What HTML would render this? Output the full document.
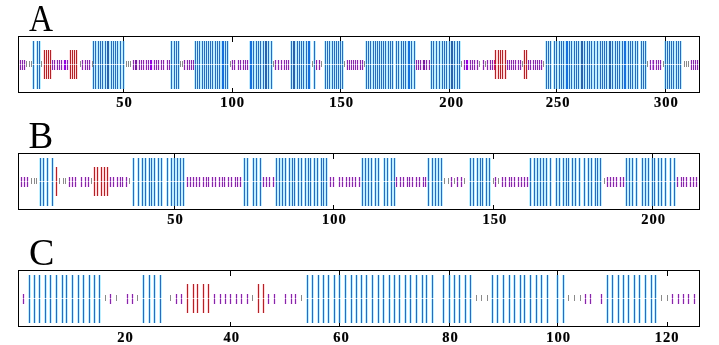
<!DOCTYPE html>
<html><head><meta charset="utf-8"><title>Sequence panels</title>
<style>
html,body{margin:0;padding:0;background:#fff;}
body{width:719px;height:345px;overflow:hidden;}
svg{display:block;}
.tl{font-family:"Liberation Serif",serif;font-weight:bold;font-size:14.5px;text-anchor:middle;letter-spacing:1px;fill:#000;stroke:#000;stroke-width:0.2px;}
.pl{font-family:"Liberation Serif",serif;font-size:37px;fill:#000;}
</style></head>
<body><svg width="719" height="345" viewBox="0 0 719 345" shape-rendering="crispEdges"><rect x="123" y="37" width="1" height="5" fill="#000"/><rect x="123" y="88" width="1" height="4" fill="#000"/><rect x="232" y="37" width="1" height="5" fill="#000"/><rect x="232" y="88" width="1" height="4" fill="#000"/><rect x="340" y="37" width="1" height="5" fill="#000"/><rect x="340" y="88" width="1" height="4" fill="#000"/><rect x="449" y="37" width="1" height="5" fill="#000"/><rect x="449" y="88" width="1" height="4" fill="#000"/><rect x="556" y="37" width="1" height="5" fill="#000"/><rect x="556" y="88" width="1" height="4" fill="#000"/><rect x="665" y="37" width="1" height="5" fill="#000"/><rect x="665" y="88" width="1" height="4" fill="#000"/><rect x="19" y="60" width="3" height="4" fill="#f8dcf9"/><rect x="19" y="65" width="3" height="5" fill="#f8dcf9"/><rect x="21" y="60" width="3" height="4" fill="#f8dcf9"/><rect x="21" y="65" width="3" height="5" fill="#f8dcf9"/><rect x="23" y="60" width="3" height="4" fill="#f8dcf9"/><rect x="23" y="65" width="3" height="5" fill="#f8dcf9"/><rect x="32" y="41" width="3" height="23" fill="#bdeeff"/><rect x="32" y="65" width="3" height="24" fill="#bdeeff"/><rect x="36" y="41" width="3" height="23" fill="#bdeeff"/><rect x="36" y="65" width="3" height="24" fill="#bdeeff"/><rect x="38" y="41" width="3" height="23" fill="#bdeeff"/><rect x="38" y="65" width="3" height="24" fill="#bdeeff"/><rect x="43" y="50" width="3" height="14" fill="#ffdadd"/><rect x="43" y="65" width="3" height="14" fill="#ffdadd"/><rect x="45" y="50" width="3" height="14" fill="#ffdadd"/><rect x="45" y="65" width="3" height="14" fill="#ffdadd"/><rect x="47" y="50" width="3" height="14" fill="#ffdadd"/><rect x="47" y="65" width="3" height="14" fill="#ffdadd"/><rect x="49" y="50" width="3" height="14" fill="#ffdadd"/><rect x="49" y="65" width="3" height="14" fill="#ffdadd"/><rect x="51" y="60" width="3" height="4" fill="#f8dcf9"/><rect x="51" y="65" width="3" height="5" fill="#f8dcf9"/><rect x="53" y="60" width="3" height="4" fill="#f8dcf9"/><rect x="53" y="65" width="3" height="5" fill="#f8dcf9"/><rect x="56" y="60" width="3" height="4" fill="#f8dcf9"/><rect x="56" y="65" width="3" height="5" fill="#f8dcf9"/><rect x="58" y="60" width="3" height="4" fill="#f8dcf9"/><rect x="58" y="65" width="3" height="5" fill="#f8dcf9"/><rect x="60" y="60" width="3" height="4" fill="#f8dcf9"/><rect x="60" y="65" width="3" height="5" fill="#f8dcf9"/><rect x="63" y="60" width="4" height="4" fill="#f6e0ff"/><rect x="63" y="65" width="4" height="5" fill="#f6e0ff"/><rect x="66" y="60" width="3" height="4" fill="#f8dcf9"/><rect x="66" y="65" width="3" height="5" fill="#f8dcf9"/><rect x="69" y="50" width="3" height="14" fill="#ffdadd"/><rect x="69" y="65" width="3" height="14" fill="#ffdadd"/><rect x="71" y="50" width="3" height="14" fill="#ffdadd"/><rect x="71" y="65" width="3" height="14" fill="#ffdadd"/><rect x="73" y="50" width="3" height="14" fill="#ffdadd"/><rect x="73" y="65" width="3" height="14" fill="#ffdadd"/><rect x="75" y="50" width="3" height="14" fill="#ffdadd"/><rect x="75" y="65" width="3" height="14" fill="#ffdadd"/><rect x="81" y="60" width="3" height="4" fill="#f8dcf9"/><rect x="81" y="65" width="3" height="5" fill="#f8dcf9"/><rect x="84" y="60" width="3" height="4" fill="#f8dcf9"/><rect x="84" y="65" width="3" height="5" fill="#f8dcf9"/><rect x="86" y="60" width="3" height="4" fill="#f8dcf9"/><rect x="86" y="65" width="3" height="5" fill="#f8dcf9"/><rect x="88" y="60" width="3" height="4" fill="#f8dcf9"/><rect x="88" y="65" width="3" height="5" fill="#f8dcf9"/><rect x="92" y="41" width="3" height="23" fill="#bdeeff"/><rect x="92" y="65" width="3" height="24" fill="#bdeeff"/><rect x="94" y="41" width="3" height="23" fill="#bdeeff"/><rect x="94" y="65" width="3" height="24" fill="#bdeeff"/><rect x="97" y="41" width="3" height="23" fill="#bdeeff"/><rect x="97" y="65" width="3" height="24" fill="#bdeeff"/><rect x="99" y="41" width="3" height="23" fill="#bdeeff"/><rect x="99" y="65" width="3" height="24" fill="#bdeeff"/><rect x="101" y="41" width="3" height="23" fill="#bdeeff"/><rect x="101" y="65" width="3" height="24" fill="#bdeeff"/><rect x="104" y="41" width="3" height="23" fill="#bdeeff"/><rect x="104" y="65" width="3" height="24" fill="#bdeeff"/><rect x="106" y="41" width="4" height="23" fill="#bdeeff"/><rect x="106" y="65" width="4" height="24" fill="#bdeeff"/><rect x="110" y="41" width="3" height="23" fill="#bdeeff"/><rect x="110" y="65" width="3" height="24" fill="#bdeeff"/><rect x="112" y="41" width="3" height="23" fill="#bdeeff"/><rect x="112" y="65" width="3" height="24" fill="#bdeeff"/><rect x="114" y="41" width="3" height="23" fill="#bdeeff"/><rect x="114" y="65" width="3" height="24" fill="#bdeeff"/><rect x="116" y="41" width="3" height="23" fill="#bdeeff"/><rect x="116" y="65" width="3" height="24" fill="#bdeeff"/><rect x="119" y="41" width="3" height="23" fill="#bdeeff"/><rect x="119" y="65" width="3" height="24" fill="#bdeeff"/><rect x="122" y="41" width="3" height="23" fill="#bdeeff"/><rect x="122" y="65" width="3" height="24" fill="#bdeeff"/><rect x="132" y="60" width="3" height="4" fill="#f8dcf9"/><rect x="132" y="65" width="3" height="5" fill="#f8dcf9"/><rect x="134" y="60" width="4" height="4" fill="#f8dcf9"/><rect x="134" y="65" width="4" height="5" fill="#f8dcf9"/><rect x="138" y="60" width="3" height="4" fill="#f8dcf9"/><rect x="138" y="65" width="3" height="5" fill="#f8dcf9"/><rect x="140" y="60" width="3" height="4" fill="#f8dcf9"/><rect x="140" y="65" width="3" height="5" fill="#f8dcf9"/><rect x="142" y="60" width="3" height="4" fill="#f8dcf9"/><rect x="142" y="65" width="3" height="5" fill="#f8dcf9"/><rect x="145" y="60" width="3" height="4" fill="#f8dcf9"/><rect x="145" y="65" width="3" height="5" fill="#f8dcf9"/><rect x="147" y="60" width="3" height="4" fill="#f8dcf9"/><rect x="147" y="65" width="3" height="5" fill="#f8dcf9"/><rect x="149" y="60" width="4" height="4" fill="#f6e0ff"/><rect x="149" y="65" width="4" height="5" fill="#f6e0ff"/><rect x="153" y="60" width="3" height="4" fill="#f8dcf9"/><rect x="153" y="65" width="3" height="5" fill="#f8dcf9"/><rect x="155" y="60" width="3" height="4" fill="#f8dcf9"/><rect x="155" y="65" width="3" height="5" fill="#f8dcf9"/><rect x="157" y="60" width="3" height="4" fill="#f8dcf9"/><rect x="157" y="65" width="3" height="5" fill="#f8dcf9"/><rect x="160" y="60" width="3" height="4" fill="#f8dcf9"/><rect x="160" y="65" width="3" height="5" fill="#f8dcf9"/><rect x="162" y="60" width="3" height="4" fill="#f8dcf9"/><rect x="162" y="65" width="3" height="5" fill="#f8dcf9"/><rect x="166" y="60" width="3" height="4" fill="#f8dcf9"/><rect x="166" y="65" width="3" height="5" fill="#f8dcf9"/><rect x="168" y="60" width="3" height="4" fill="#f8dcf9"/><rect x="168" y="65" width="3" height="5" fill="#f8dcf9"/><rect x="170" y="41" width="3" height="23" fill="#bdeeff"/><rect x="170" y="65" width="3" height="24" fill="#bdeeff"/><rect x="173" y="41" width="3" height="23" fill="#bdeeff"/><rect x="173" y="65" width="3" height="24" fill="#bdeeff"/><rect x="175" y="41" width="3" height="23" fill="#bdeeff"/><rect x="175" y="65" width="3" height="24" fill="#bdeeff"/><rect x="177" y="41" width="3" height="23" fill="#bdeeff"/><rect x="177" y="65" width="3" height="24" fill="#bdeeff"/><rect x="183" y="60" width="3" height="4" fill="#f8dcf9"/><rect x="183" y="65" width="3" height="5" fill="#f8dcf9"/><rect x="186" y="60" width="3" height="4" fill="#f8dcf9"/><rect x="186" y="65" width="3" height="5" fill="#f8dcf9"/><rect x="188" y="60" width="3" height="4" fill="#f8dcf9"/><rect x="188" y="65" width="3" height="5" fill="#f8dcf9"/><rect x="190" y="60" width="3" height="4" fill="#f8dcf9"/><rect x="190" y="65" width="3" height="5" fill="#f8dcf9"/><rect x="192" y="60" width="3" height="4" fill="#f8dcf9"/><rect x="192" y="65" width="3" height="5" fill="#f8dcf9"/><rect x="194" y="41" width="3" height="23" fill="#bdeeff"/><rect x="194" y="65" width="3" height="24" fill="#bdeeff"/><rect x="196" y="41" width="3" height="23" fill="#bdeeff"/><rect x="196" y="65" width="3" height="24" fill="#bdeeff"/><rect x="198" y="41" width="3" height="23" fill="#bdeeff"/><rect x="198" y="65" width="3" height="24" fill="#bdeeff"/><rect x="201" y="41" width="3" height="23" fill="#bdeeff"/><rect x="201" y="65" width="3" height="24" fill="#bdeeff"/><rect x="203" y="41" width="3" height="23" fill="#bdeeff"/><rect x="203" y="65" width="3" height="24" fill="#bdeeff"/><rect x="205" y="41" width="3" height="23" fill="#bdeeff"/><rect x="205" y="65" width="3" height="24" fill="#bdeeff"/><rect x="207" y="41" width="3" height="23" fill="#bdeeff"/><rect x="207" y="65" width="3" height="24" fill="#bdeeff"/><rect x="209" y="41" width="3" height="23" fill="#bdeeff"/><rect x="209" y="65" width="3" height="24" fill="#bdeeff"/><rect x="211" y="41" width="3" height="23" fill="#bdeeff"/><rect x="211" y="65" width="3" height="24" fill="#bdeeff"/><rect x="214" y="41" width="3" height="23" fill="#bdeeff"/><rect x="214" y="65" width="3" height="24" fill="#bdeeff"/><rect x="216" y="41" width="3" height="23" fill="#bdeeff"/><rect x="216" y="65" width="3" height="24" fill="#bdeeff"/><rect x="218" y="41" width="3" height="23" fill="#bdeeff"/><rect x="218" y="65" width="3" height="24" fill="#bdeeff"/><rect x="221" y="41" width="4" height="23" fill="#bde8ff"/><rect x="221" y="65" width="4" height="24" fill="#bde8ff"/><rect x="224" y="41" width="3" height="23" fill="#bdeeff"/><rect x="224" y="65" width="3" height="24" fill="#bdeeff"/><rect x="226" y="41" width="3" height="23" fill="#bdeeff"/><rect x="226" y="65" width="3" height="24" fill="#bdeeff"/><rect x="231" y="60" width="3" height="4" fill="#f8dcf9"/><rect x="231" y="65" width="3" height="5" fill="#f8dcf9"/><rect x="233" y="60" width="3" height="4" fill="#f8dcf9"/><rect x="233" y="65" width="3" height="5" fill="#f8dcf9"/><rect x="237" y="60" width="3" height="4" fill="#f8dcf9"/><rect x="237" y="65" width="3" height="5" fill="#f8dcf9"/><rect x="239" y="60" width="3" height="4" fill="#f8dcf9"/><rect x="239" y="65" width="3" height="5" fill="#f8dcf9"/><rect x="242" y="60" width="3" height="4" fill="#f8dcf9"/><rect x="242" y="65" width="3" height="5" fill="#f8dcf9"/><rect x="244" y="60" width="3" height="4" fill="#f8dcf9"/><rect x="244" y="65" width="3" height="5" fill="#f8dcf9"/><rect x="246" y="60" width="3" height="4" fill="#f8dcf9"/><rect x="246" y="65" width="3" height="5" fill="#f8dcf9"/><rect x="249" y="41" width="4" height="23" fill="#bde8ff"/><rect x="249" y="65" width="4" height="24" fill="#bde8ff"/><rect x="252" y="41" width="3" height="23" fill="#bdeeff"/><rect x="252" y="65" width="3" height="24" fill="#bdeeff"/><rect x="255" y="41" width="3" height="23" fill="#bdeeff"/><rect x="255" y="65" width="3" height="24" fill="#bdeeff"/><rect x="257" y="41" width="3" height="23" fill="#bdeeff"/><rect x="257" y="65" width="3" height="24" fill="#bdeeff"/><rect x="259" y="41" width="3" height="23" fill="#bdeeff"/><rect x="259" y="65" width="3" height="24" fill="#bdeeff"/><rect x="262" y="41" width="3" height="23" fill="#bdeeff"/><rect x="262" y="65" width="3" height="24" fill="#bdeeff"/><rect x="264" y="41" width="4" height="23" fill="#bdeeff"/><rect x="264" y="65" width="4" height="24" fill="#bdeeff"/><rect x="267" y="41" width="3" height="23" fill="#bdeeff"/><rect x="267" y="65" width="3" height="24" fill="#bdeeff"/><rect x="270" y="41" width="3" height="23" fill="#bdeeff"/><rect x="270" y="65" width="3" height="24" fill="#bdeeff"/><rect x="274" y="60" width="3" height="4" fill="#f8dcf9"/><rect x="274" y="65" width="3" height="5" fill="#f8dcf9"/><rect x="277" y="60" width="3" height="4" fill="#f8dcf9"/><rect x="277" y="65" width="3" height="5" fill="#f8dcf9"/><rect x="280" y="60" width="3" height="4" fill="#f8dcf9"/><rect x="280" y="65" width="3" height="5" fill="#f8dcf9"/><rect x="283" y="60" width="3" height="4" fill="#f8dcf9"/><rect x="283" y="65" width="3" height="5" fill="#f8dcf9"/><rect x="285" y="60" width="3" height="4" fill="#f8dcf9"/><rect x="285" y="65" width="3" height="5" fill="#f8dcf9"/><rect x="287" y="60" width="3" height="4" fill="#f8dcf9"/><rect x="287" y="65" width="3" height="5" fill="#f8dcf9"/><rect x="290" y="41" width="3" height="23" fill="#bdeeff"/><rect x="290" y="65" width="3" height="24" fill="#bdeeff"/><rect x="292" y="41" width="4" height="23" fill="#bdeeff"/><rect x="292" y="65" width="4" height="24" fill="#bdeeff"/><rect x="296" y="41" width="3" height="23" fill="#bdeeff"/><rect x="296" y="65" width="3" height="24" fill="#bdeeff"/><rect x="298" y="41" width="3" height="23" fill="#bdeeff"/><rect x="298" y="65" width="3" height="24" fill="#bdeeff"/><rect x="300" y="41" width="3" height="23" fill="#bdeeff"/><rect x="300" y="65" width="3" height="24" fill="#bdeeff"/><rect x="302" y="41" width="3" height="23" fill="#bdeeff"/><rect x="302" y="65" width="3" height="24" fill="#bdeeff"/><rect x="305" y="41" width="3" height="23" fill="#bdeeff"/><rect x="305" y="65" width="3" height="24" fill="#bdeeff"/><rect x="307" y="41" width="4" height="23" fill="#bde8ff"/><rect x="307" y="65" width="4" height="24" fill="#bde8ff"/><rect x="313" y="41" width="3" height="23" fill="#bdeeff"/><rect x="313" y="65" width="3" height="24" fill="#bdeeff"/><rect x="315" y="60" width="3" height="4" fill="#f8dcf9"/><rect x="315" y="65" width="3" height="5" fill="#f8dcf9"/><rect x="318" y="60" width="3" height="4" fill="#f8dcf9"/><rect x="318" y="65" width="3" height="5" fill="#f8dcf9"/><rect x="324" y="41" width="3" height="23" fill="#bdeeff"/><rect x="324" y="65" width="3" height="24" fill="#bdeeff"/><rect x="326" y="41" width="3" height="23" fill="#bdeeff"/><rect x="326" y="65" width="3" height="24" fill="#bdeeff"/><rect x="328" y="41" width="3" height="23" fill="#bdeeff"/><rect x="328" y="65" width="3" height="24" fill="#bdeeff"/><rect x="331" y="41" width="3" height="23" fill="#bdeeff"/><rect x="331" y="65" width="3" height="24" fill="#bdeeff"/><rect x="333" y="41" width="3" height="23" fill="#bdeeff"/><rect x="333" y="65" width="3" height="24" fill="#bdeeff"/><rect x="335" y="41" width="3" height="23" fill="#bdeeff"/><rect x="335" y="65" width="3" height="24" fill="#bdeeff"/><rect x="337" y="41" width="3" height="23" fill="#bdeeff"/><rect x="337" y="65" width="3" height="24" fill="#bdeeff"/><rect x="339" y="41" width="3" height="23" fill="#bdeeff"/><rect x="339" y="65" width="3" height="24" fill="#bdeeff"/><rect x="341" y="41" width="3" height="23" fill="#bdeeff"/><rect x="341" y="65" width="3" height="24" fill="#bdeeff"/><rect x="346" y="60" width="3" height="4" fill="#f8dcf9"/><rect x="346" y="65" width="3" height="5" fill="#f8dcf9"/><rect x="348" y="60" width="3" height="4" fill="#f8dcf9"/><rect x="348" y="65" width="3" height="5" fill="#f8dcf9"/><rect x="350" y="60" width="3" height="4" fill="#f8dcf9"/><rect x="350" y="65" width="3" height="5" fill="#f8dcf9"/><rect x="352" y="60" width="3" height="4" fill="#f8dcf9"/><rect x="352" y="65" width="3" height="5" fill="#f8dcf9"/><rect x="354" y="60" width="3" height="4" fill="#f8dcf9"/><rect x="354" y="65" width="3" height="5" fill="#f8dcf9"/><rect x="356" y="60" width="3" height="4" fill="#f8dcf9"/><rect x="356" y="65" width="3" height="5" fill="#f8dcf9"/><rect x="359" y="60" width="3" height="4" fill="#f8dcf9"/><rect x="359" y="65" width="3" height="5" fill="#f8dcf9"/><rect x="361" y="60" width="3" height="4" fill="#f8dcf9"/><rect x="361" y="65" width="3" height="5" fill="#f8dcf9"/><rect x="365" y="41" width="3" height="23" fill="#bdeeff"/><rect x="365" y="65" width="3" height="24" fill="#bdeeff"/><rect x="367" y="41" width="3" height="23" fill="#bdeeff"/><rect x="367" y="65" width="3" height="24" fill="#bdeeff"/><rect x="369" y="41" width="3" height="23" fill="#bdeeff"/><rect x="369" y="65" width="3" height="24" fill="#bdeeff"/><rect x="372" y="41" width="3" height="23" fill="#bdeeff"/><rect x="372" y="65" width="3" height="24" fill="#bdeeff"/><rect x="374" y="41" width="3" height="23" fill="#bdeeff"/><rect x="374" y="65" width="3" height="24" fill="#bdeeff"/><rect x="376" y="41" width="3" height="23" fill="#bdeeff"/><rect x="376" y="65" width="3" height="24" fill="#bdeeff"/><rect x="378" y="41" width="3" height="23" fill="#bdeeff"/><rect x="378" y="65" width="3" height="24" fill="#bdeeff"/><rect x="380" y="41" width="3" height="23" fill="#bdeeff"/><rect x="380" y="65" width="3" height="24" fill="#bdeeff"/><rect x="382" y="41" width="3" height="23" fill="#bdeeff"/><rect x="382" y="65" width="3" height="24" fill="#bdeeff"/><rect x="384" y="41" width="3" height="23" fill="#bdeeff"/><rect x="384" y="65" width="3" height="24" fill="#bdeeff"/><rect x="387" y="41" width="3" height="23" fill="#bdeeff"/><rect x="387" y="65" width="3" height="24" fill="#bdeeff"/><rect x="389" y="41" width="3" height="23" fill="#bdeeff"/><rect x="389" y="65" width="3" height="24" fill="#bdeeff"/><rect x="391" y="41" width="3" height="23" fill="#bdeeff"/><rect x="391" y="65" width="3" height="24" fill="#bdeeff"/><rect x="395" y="41" width="3" height="23" fill="#bdeeff"/><rect x="395" y="65" width="3" height="24" fill="#bdeeff"/><rect x="397" y="41" width="3" height="23" fill="#bdeeff"/><rect x="397" y="65" width="3" height="24" fill="#bdeeff"/><rect x="400" y="41" width="3" height="23" fill="#bdeeff"/><rect x="400" y="65" width="3" height="24" fill="#bdeeff"/><rect x="402" y="41" width="3" height="23" fill="#bdeeff"/><rect x="402" y="65" width="3" height="24" fill="#bdeeff"/><rect x="404" y="41" width="3" height="23" fill="#bdeeff"/><rect x="404" y="65" width="3" height="24" fill="#bdeeff"/><rect x="407" y="41" width="4" height="23" fill="#bde8ff"/><rect x="407" y="65" width="4" height="24" fill="#bde8ff"/><rect x="410" y="41" width="3" height="23" fill="#bdeeff"/><rect x="410" y="65" width="3" height="24" fill="#bdeeff"/><rect x="413" y="41" width="3" height="23" fill="#bdeeff"/><rect x="413" y="65" width="3" height="24" fill="#bdeeff"/><rect x="415" y="60" width="3" height="4" fill="#f8dcf9"/><rect x="415" y="65" width="3" height="5" fill="#f8dcf9"/><rect x="417" y="60" width="3" height="4" fill="#f8dcf9"/><rect x="417" y="65" width="3" height="5" fill="#f8dcf9"/><rect x="419" y="60" width="3" height="4" fill="#f8dcf9"/><rect x="419" y="65" width="3" height="5" fill="#f8dcf9"/><rect x="422" y="60" width="4" height="4" fill="#f8dcf9"/><rect x="422" y="65" width="4" height="5" fill="#f8dcf9"/><rect x="425" y="60" width="3" height="4" fill="#f8dcf9"/><rect x="425" y="65" width="3" height="5" fill="#f8dcf9"/><rect x="428" y="60" width="3" height="4" fill="#f8dcf9"/><rect x="428" y="65" width="3" height="5" fill="#f8dcf9"/><rect x="430" y="41" width="3" height="23" fill="#bdeeff"/><rect x="430" y="65" width="3" height="24" fill="#bdeeff"/><rect x="432" y="41" width="3" height="23" fill="#bdeeff"/><rect x="432" y="65" width="3" height="24" fill="#bdeeff"/><rect x="435" y="41" width="3" height="23" fill="#bdeeff"/><rect x="435" y="65" width="3" height="24" fill="#bdeeff"/><rect x="438" y="41" width="3" height="23" fill="#bdeeff"/><rect x="438" y="65" width="3" height="24" fill="#bdeeff"/><rect x="441" y="41" width="3" height="23" fill="#bdeeff"/><rect x="441" y="65" width="3" height="24" fill="#bdeeff"/><rect x="443" y="41" width="3" height="23" fill="#bdeeff"/><rect x="443" y="65" width="3" height="24" fill="#bdeeff"/><rect x="445" y="41" width="3" height="23" fill="#bdeeff"/><rect x="445" y="65" width="3" height="24" fill="#bdeeff"/><rect x="448" y="41" width="3" height="23" fill="#bdeeff"/><rect x="448" y="65" width="3" height="24" fill="#bdeeff"/><rect x="450" y="41" width="4" height="23" fill="#bdeeff"/><rect x="450" y="65" width="4" height="24" fill="#bdeeff"/><rect x="453" y="41" width="3" height="23" fill="#bdeeff"/><rect x="453" y="65" width="3" height="24" fill="#bdeeff"/><rect x="456" y="41" width="3" height="23" fill="#bdeeff"/><rect x="456" y="65" width="3" height="24" fill="#bdeeff"/><rect x="458" y="41" width="3" height="23" fill="#bdeeff"/><rect x="458" y="65" width="3" height="24" fill="#bdeeff"/><rect x="463" y="60" width="3" height="4" fill="#f8dcf9"/><rect x="463" y="65" width="3" height="5" fill="#f8dcf9"/><rect x="465" y="60" width="4" height="4" fill="#f6e0ff"/><rect x="465" y="65" width="4" height="5" fill="#f6e0ff"/><rect x="469" y="60" width="3" height="4" fill="#f8dcf9"/><rect x="469" y="65" width="3" height="5" fill="#f8dcf9"/><rect x="471" y="60" width="3" height="4" fill="#f8dcf9"/><rect x="471" y="65" width="3" height="5" fill="#f8dcf9"/><rect x="473" y="60" width="3" height="4" fill="#f8dcf9"/><rect x="473" y="65" width="3" height="5" fill="#f8dcf9"/><rect x="476" y="60" width="3" height="4" fill="#f8dcf9"/><rect x="476" y="65" width="3" height="5" fill="#f8dcf9"/><rect x="482" y="60" width="3" height="4" fill="#f8dcf9"/><rect x="482" y="65" width="3" height="5" fill="#f8dcf9"/><rect x="486" y="60" width="3" height="4" fill="#f8dcf9"/><rect x="486" y="65" width="3" height="5" fill="#f8dcf9"/><rect x="489" y="60" width="3" height="4" fill="#f8dcf9"/><rect x="489" y="65" width="3" height="5" fill="#f8dcf9"/><rect x="491" y="60" width="3" height="4" fill="#f8dcf9"/><rect x="491" y="65" width="3" height="5" fill="#f8dcf9"/><rect x="493" y="60" width="4" height="4" fill="#ffe0f0"/><rect x="493" y="65" width="4" height="5" fill="#ffe0f0"/><rect x="494" y="50" width="3" height="14" fill="#ffdadd"/><rect x="494" y="65" width="3" height="14" fill="#ffdadd"/><rect x="497" y="50" width="3" height="14" fill="#ffdadd"/><rect x="497" y="65" width="3" height="14" fill="#ffdadd"/><rect x="499" y="50" width="3" height="14" fill="#ffdadd"/><rect x="499" y="65" width="3" height="14" fill="#ffdadd"/><rect x="501" y="50" width="3" height="14" fill="#ffdadd"/><rect x="501" y="65" width="3" height="14" fill="#ffdadd"/><rect x="504" y="50" width="3" height="14" fill="#ffdadd"/><rect x="504" y="65" width="3" height="14" fill="#ffdadd"/><rect x="506" y="60" width="3" height="4" fill="#f8dcf9"/><rect x="506" y="65" width="3" height="5" fill="#f8dcf9"/><rect x="508" y="60" width="3" height="4" fill="#f8dcf9"/><rect x="508" y="65" width="3" height="5" fill="#f8dcf9"/><rect x="510" y="60" width="3" height="4" fill="#f8dcf9"/><rect x="510" y="65" width="3" height="5" fill="#f8dcf9"/><rect x="512" y="60" width="3" height="4" fill="#f8dcf9"/><rect x="512" y="65" width="3" height="5" fill="#f8dcf9"/><rect x="514" y="60" width="3" height="4" fill="#f8dcf9"/><rect x="514" y="65" width="3" height="5" fill="#f8dcf9"/><rect x="517" y="60" width="3" height="4" fill="#f8dcf9"/><rect x="517" y="65" width="3" height="5" fill="#f8dcf9"/><rect x="519" y="60" width="3" height="4" fill="#f8dcf9"/><rect x="519" y="65" width="3" height="5" fill="#f8dcf9"/><rect x="523" y="50" width="3" height="14" fill="#ffdadd"/><rect x="523" y="65" width="3" height="14" fill="#ffdadd"/><rect x="525" y="50" width="3" height="14" fill="#ffdadd"/><rect x="525" y="65" width="3" height="14" fill="#ffdadd"/><rect x="527" y="60" width="3" height="4" fill="#f8dcf9"/><rect x="527" y="65" width="3" height="5" fill="#f8dcf9"/><rect x="529" y="60" width="3" height="4" fill="#f8dcf9"/><rect x="529" y="65" width="3" height="5" fill="#f8dcf9"/><rect x="532" y="60" width="3" height="4" fill="#f8dcf9"/><rect x="532" y="65" width="3" height="5" fill="#f8dcf9"/><rect x="534" y="60" width="3" height="4" fill="#f8dcf9"/><rect x="534" y="65" width="3" height="5" fill="#f8dcf9"/><rect x="536" y="60" width="3" height="4" fill="#f8dcf9"/><rect x="536" y="65" width="3" height="5" fill="#f8dcf9"/><rect x="538" y="60" width="3" height="4" fill="#f8dcf9"/><rect x="538" y="65" width="3" height="5" fill="#f8dcf9"/><rect x="540" y="60" width="3" height="4" fill="#f8dcf9"/><rect x="540" y="65" width="3" height="5" fill="#f8dcf9"/><rect x="545" y="41" width="3" height="23" fill="#bdeeff"/><rect x="545" y="65" width="3" height="24" fill="#bdeeff"/><rect x="547" y="41" width="3" height="23" fill="#bdeeff"/><rect x="547" y="65" width="3" height="24" fill="#bdeeff"/><rect x="549" y="41" width="3" height="23" fill="#bdeeff"/><rect x="549" y="65" width="3" height="24" fill="#bdeeff"/><rect x="553" y="41" width="3" height="23" fill="#bdeeff"/><rect x="553" y="65" width="3" height="24" fill="#bdeeff"/><rect x="555" y="41" width="3" height="23" fill="#bdeeff"/><rect x="555" y="65" width="3" height="24" fill="#bdeeff"/><rect x="558" y="41" width="3" height="23" fill="#bdeeff"/><rect x="558" y="65" width="3" height="24" fill="#bdeeff"/><rect x="560" y="41" width="3" height="23" fill="#bdeeff"/><rect x="560" y="65" width="3" height="24" fill="#bdeeff"/><rect x="562" y="41" width="3" height="23" fill="#bdeeff"/><rect x="562" y="65" width="3" height="24" fill="#bdeeff"/><rect x="565" y="41" width="4" height="23" fill="#bde8ff"/><rect x="565" y="65" width="4" height="24" fill="#bde8ff"/><rect x="568" y="41" width="3" height="23" fill="#bdeeff"/><rect x="568" y="65" width="3" height="24" fill="#bdeeff"/><rect x="570" y="41" width="3" height="23" fill="#bdeeff"/><rect x="570" y="65" width="3" height="24" fill="#bdeeff"/><rect x="573" y="41" width="3" height="23" fill="#bdeeff"/><rect x="573" y="65" width="3" height="24" fill="#bdeeff"/><rect x="575" y="41" width="3" height="23" fill="#bdeeff"/><rect x="575" y="65" width="3" height="24" fill="#bdeeff"/><rect x="577" y="41" width="3" height="23" fill="#bdeeff"/><rect x="577" y="65" width="3" height="24" fill="#bdeeff"/><rect x="580" y="41" width="4" height="23" fill="#bdeeff"/><rect x="580" y="65" width="4" height="24" fill="#bdeeff"/><rect x="583" y="41" width="3" height="23" fill="#bdeeff"/><rect x="583" y="65" width="3" height="24" fill="#bdeeff"/><rect x="586" y="41" width="3" height="23" fill="#bdeeff"/><rect x="586" y="65" width="3" height="24" fill="#bdeeff"/><rect x="588" y="41" width="3" height="23" fill="#bdeeff"/><rect x="588" y="65" width="3" height="24" fill="#bdeeff"/><rect x="590" y="41" width="3" height="23" fill="#bdeeff"/><rect x="590" y="65" width="3" height="24" fill="#bdeeff"/><rect x="593" y="41" width="3" height="23" fill="#bdeeff"/><rect x="593" y="65" width="3" height="24" fill="#bdeeff"/><rect x="596" y="41" width="3" height="23" fill="#bdeeff"/><rect x="596" y="65" width="3" height="24" fill="#bdeeff"/><rect x="599" y="41" width="3" height="23" fill="#bdeeff"/><rect x="599" y="65" width="3" height="24" fill="#bdeeff"/><rect x="601" y="41" width="3" height="23" fill="#bdeeff"/><rect x="601" y="65" width="3" height="24" fill="#bdeeff"/><rect x="603" y="41" width="3" height="23" fill="#bdeeff"/><rect x="603" y="65" width="3" height="24" fill="#bdeeff"/><rect x="605" y="41" width="3" height="23" fill="#bdeeff"/><rect x="605" y="65" width="3" height="24" fill="#bdeeff"/><rect x="608" y="41" width="4" height="23" fill="#bdeeff"/><rect x="608" y="65" width="4" height="24" fill="#bdeeff"/><rect x="611" y="41" width="3" height="23" fill="#bdeeff"/><rect x="611" y="65" width="3" height="24" fill="#bdeeff"/><rect x="614" y="41" width="3" height="23" fill="#bdeeff"/><rect x="614" y="65" width="3" height="24" fill="#bdeeff"/><rect x="616" y="41" width="3" height="23" fill="#bdeeff"/><rect x="616" y="65" width="3" height="24" fill="#bdeeff"/><rect x="618" y="41" width="3" height="23" fill="#bdeeff"/><rect x="618" y="65" width="3" height="24" fill="#bdeeff"/><rect x="621" y="41" width="3" height="23" fill="#bdeeff"/><rect x="621" y="65" width="3" height="24" fill="#bdeeff"/><rect x="623" y="41" width="4" height="23" fill="#bde8ff"/><rect x="623" y="65" width="4" height="24" fill="#bde8ff"/><rect x="627" y="41" width="3" height="23" fill="#bdeeff"/><rect x="627" y="65" width="3" height="24" fill="#bdeeff"/><rect x="629" y="41" width="3" height="23" fill="#bdeeff"/><rect x="629" y="65" width="3" height="24" fill="#bdeeff"/><rect x="631" y="41" width="3" height="23" fill="#bdeeff"/><rect x="631" y="65" width="3" height="24" fill="#bdeeff"/><rect x="634" y="41" width="3" height="23" fill="#bdeeff"/><rect x="634" y="65" width="3" height="24" fill="#bdeeff"/><rect x="636" y="41" width="3" height="23" fill="#bdeeff"/><rect x="636" y="65" width="3" height="24" fill="#bdeeff"/><rect x="640" y="41" width="3" height="23" fill="#bdeeff"/><rect x="640" y="65" width="3" height="24" fill="#bdeeff"/><rect x="642" y="41" width="3" height="23" fill="#bdeeff"/><rect x="642" y="65" width="3" height="24" fill="#bdeeff"/><rect x="644" y="41" width="3" height="23" fill="#bdeeff"/><rect x="644" y="65" width="3" height="24" fill="#bdeeff"/><rect x="649" y="60" width="3" height="4" fill="#f8dcf9"/><rect x="649" y="65" width="3" height="5" fill="#f8dcf9"/><rect x="651" y="60" width="3" height="4" fill="#fcf0fd"/><rect x="651" y="65" width="3" height="5" fill="#fcf0fd"/><rect x="652" y="60" width="3" height="4" fill="#f8dcf9"/><rect x="652" y="65" width="3" height="5" fill="#f8dcf9"/><rect x="655" y="60" width="3" height="4" fill="#f8dcf9"/><rect x="655" y="65" width="3" height="5" fill="#f8dcf9"/><rect x="657" y="60" width="3" height="4" fill="#f8dcf9"/><rect x="657" y="65" width="3" height="5" fill="#f8dcf9"/><rect x="659" y="60" width="3" height="4" fill="#f8dcf9"/><rect x="659" y="65" width="3" height="5" fill="#f8dcf9"/><rect x="664" y="41" width="3" height="23" fill="#bdeeff"/><rect x="664" y="65" width="3" height="24" fill="#bdeeff"/><rect x="666" y="41" width="3" height="23" fill="#bdeeff"/><rect x="666" y="65" width="3" height="24" fill="#bdeeff"/><rect x="668" y="41" width="3" height="23" fill="#bdeeff"/><rect x="668" y="65" width="3" height="24" fill="#bdeeff"/><rect x="670" y="41" width="3" height="23" fill="#bdeeff"/><rect x="670" y="65" width="3" height="24" fill="#bdeeff"/><rect x="672" y="41" width="3" height="23" fill="#bdeeff"/><rect x="672" y="65" width="3" height="24" fill="#bdeeff"/><rect x="675" y="41" width="3" height="23" fill="#bdeeff"/><rect x="675" y="65" width="3" height="24" fill="#bdeeff"/><rect x="677" y="41" width="3" height="23" fill="#bdeeff"/><rect x="677" y="65" width="3" height="24" fill="#bdeeff"/><rect x="679" y="41" width="3" height="23" fill="#bdeeff"/><rect x="679" y="65" width="3" height="24" fill="#bdeeff"/><rect x="690" y="60" width="3" height="4" fill="#f8dcf9"/><rect x="690" y="65" width="3" height="5" fill="#f8dcf9"/><rect x="692" y="60" width="3" height="4" fill="#f8dcf9"/><rect x="692" y="65" width="3" height="5" fill="#f8dcf9"/><rect x="694" y="60" width="3" height="4" fill="#f8dcf9"/><rect x="694" y="65" width="3" height="5" fill="#f8dcf9"/><rect x="696" y="60" width="3" height="4" fill="#f8dcf9"/><rect x="696" y="65" width="3" height="5" fill="#f8dcf9"/><rect x="20" y="60" width="1" height="10" fill="#8228a8"/><rect x="20" y="64" width="1" height="1" fill="#b880cc"/><rect x="22" y="60" width="1" height="10" fill="#8228a8"/><rect x="22" y="64" width="1" height="1" fill="#b880cc"/><rect x="24" y="60" width="1" height="10" fill="#8228a8"/><rect x="24" y="64" width="1" height="1" fill="#b880cc"/><rect x="26" y="61" width="1" height="6" fill="#8a8a8a"/><rect x="29" y="61" width="1" height="6" fill="#8a8a8a"/><rect x="31" y="61" width="1" height="6" fill="#8a8a8a"/><rect x="33" y="41" width="1" height="48" fill="#2a6cb6"/><rect x="33" y="64" width="1" height="1" fill="#b0d0ea"/><rect x="37" y="41" width="1" height="48" fill="#2a6cb6"/><rect x="37" y="64" width="1" height="1" fill="#b0d0ea"/><rect x="39" y="41" width="1" height="48" fill="#2a6cb6"/><rect x="39" y="64" width="1" height="1" fill="#b0d0ea"/><rect x="41" y="61" width="1" height="6" fill="#8a8a8a"/><rect x="44" y="50" width="1" height="29" fill="#af2328"/><rect x="44" y="64" width="1" height="1" fill="#dca0a0"/><rect x="46" y="50" width="1" height="29" fill="#af2328"/><rect x="46" y="64" width="1" height="1" fill="#dca0a0"/><rect x="48" y="50" width="1" height="29" fill="#af2328"/><rect x="48" y="64" width="1" height="1" fill="#dca0a0"/><rect x="50" y="50" width="1" height="29" fill="#af2328"/><rect x="50" y="64" width="1" height="1" fill="#dca0a0"/><rect x="52" y="60" width="1" height="10" fill="#8228a8"/><rect x="52" y="64" width="1" height="1" fill="#b880cc"/><rect x="54" y="60" width="1" height="10" fill="#8228a8"/><rect x="54" y="64" width="1" height="1" fill="#b880cc"/><rect x="57" y="60" width="1" height="10" fill="#8228a8"/><rect x="57" y="64" width="1" height="1" fill="#b880cc"/><rect x="59" y="60" width="1" height="10" fill="#8228a8"/><rect x="59" y="64" width="1" height="1" fill="#b880cc"/><rect x="61" y="60" width="1" height="10" fill="#8228a8"/><rect x="61" y="64" width="1" height="1" fill="#b880cc"/><rect x="64" y="60" width="2" height="10" fill="#9300e0"/><rect x="64" y="64" width="2" height="1" fill="#d8a0f8"/><rect x="67" y="60" width="1" height="10" fill="#8228a8"/><rect x="67" y="64" width="1" height="1" fill="#b880cc"/><rect x="70" y="50" width="1" height="29" fill="#af2328"/><rect x="70" y="64" width="1" height="1" fill="#dca0a0"/><rect x="72" y="50" width="1" height="29" fill="#af2328"/><rect x="72" y="64" width="1" height="1" fill="#dca0a0"/><rect x="74" y="50" width="1" height="29" fill="#af2328"/><rect x="74" y="64" width="1" height="1" fill="#dca0a0"/><rect x="76" y="50" width="1" height="29" fill="#af2328"/><rect x="76" y="64" width="1" height="1" fill="#dca0a0"/><rect x="80" y="61" width="1" height="6" fill="#8a8a8a"/><rect x="82" y="60" width="1" height="10" fill="#8228a8"/><rect x="82" y="64" width="1" height="1" fill="#b880cc"/><rect x="85" y="60" width="1" height="10" fill="#8228a8"/><rect x="85" y="64" width="1" height="1" fill="#b880cc"/><rect x="87" y="60" width="1" height="10" fill="#8228a8"/><rect x="87" y="64" width="1" height="1" fill="#b880cc"/><rect x="89" y="60" width="1" height="10" fill="#8228a8"/><rect x="89" y="64" width="1" height="1" fill="#b880cc"/><rect x="92" y="61" width="1" height="6" fill="#8a8a8a"/><rect x="93" y="41" width="1" height="48" fill="#2a6cb6"/><rect x="93" y="64" width="1" height="1" fill="#b0d0ea"/><rect x="95" y="41" width="1" height="48" fill="#2a6cb6"/><rect x="95" y="64" width="1" height="1" fill="#b0d0ea"/><rect x="98" y="41" width="1" height="48" fill="#2a6cb6"/><rect x="98" y="64" width="1" height="1" fill="#b0d0ea"/><rect x="100" y="41" width="1" height="48" fill="#2a6cb6"/><rect x="100" y="64" width="1" height="1" fill="#b0d0ea"/><rect x="102" y="41" width="1" height="48" fill="#2a6cb6"/><rect x="102" y="64" width="1" height="1" fill="#b0d0ea"/><rect x="105" y="41" width="1" height="48" fill="#2a6cb6"/><rect x="105" y="64" width="1" height="1" fill="#b0d0ea"/><rect x="107" y="41" width="2" height="48" fill="#2a62a8"/><rect x="107" y="64" width="2" height="1" fill="#b0d0ea"/><rect x="111" y="41" width="1" height="48" fill="#2a6cb6"/><rect x="111" y="64" width="1" height="1" fill="#b0d0ea"/><rect x="113" y="41" width="1" height="48" fill="#2a6cb6"/><rect x="113" y="64" width="1" height="1" fill="#b0d0ea"/><rect x="115" y="41" width="1" height="48" fill="#2a6cb6"/><rect x="115" y="64" width="1" height="1" fill="#b0d0ea"/><rect x="117" y="41" width="1" height="48" fill="#2a6cb6"/><rect x="117" y="64" width="1" height="1" fill="#b0d0ea"/><rect x="120" y="41" width="1" height="48" fill="#2a6cb6"/><rect x="120" y="64" width="1" height="1" fill="#b0d0ea"/><rect x="123" y="41" width="1" height="48" fill="#2a6cb6"/><rect x="123" y="64" width="1" height="1" fill="#b0d0ea"/><rect x="126" y="61" width="1" height="6" fill="#8a8a8a"/><rect x="128" y="61" width="1" height="6" fill="#8a8a8a"/><rect x="130" y="61" width="1" height="6" fill="#8a8a8a"/><rect x="133" y="60" width="1" height="10" fill="#8228a8"/><rect x="133" y="64" width="1" height="1" fill="#b880cc"/><rect x="135" y="60" width="2" height="10" fill="#741c9c"/><rect x="135" y="64" width="2" height="1" fill="#b47cc8"/><rect x="139" y="60" width="1" height="10" fill="#8228a8"/><rect x="139" y="64" width="1" height="1" fill="#b880cc"/><rect x="141" y="60" width="1" height="10" fill="#8228a8"/><rect x="141" y="64" width="1" height="1" fill="#b880cc"/><rect x="143" y="60" width="1" height="10" fill="#8228a8"/><rect x="143" y="64" width="1" height="1" fill="#b880cc"/><rect x="146" y="60" width="1" height="10" fill="#8228a8"/><rect x="146" y="64" width="1" height="1" fill="#b880cc"/><rect x="148" y="60" width="1" height="10" fill="#8228a8"/><rect x="148" y="64" width="1" height="1" fill="#b880cc"/><rect x="150" y="60" width="2" height="10" fill="#9300e0"/><rect x="150" y="64" width="2" height="1" fill="#d8a0f8"/><rect x="154" y="60" width="1" height="10" fill="#8228a8"/><rect x="154" y="64" width="1" height="1" fill="#b880cc"/><rect x="156" y="60" width="1" height="10" fill="#8228a8"/><rect x="156" y="64" width="1" height="1" fill="#b880cc"/><rect x="158" y="60" width="1" height="10" fill="#8228a8"/><rect x="158" y="64" width="1" height="1" fill="#b880cc"/><rect x="161" y="60" width="1" height="10" fill="#8228a8"/><rect x="161" y="64" width="1" height="1" fill="#b880cc"/><rect x="163" y="60" width="1" height="10" fill="#8228a8"/><rect x="163" y="64" width="1" height="1" fill="#b880cc"/><rect x="167" y="60" width="1" height="10" fill="#8228a8"/><rect x="167" y="64" width="1" height="1" fill="#b880cc"/><rect x="169" y="60" width="1" height="10" fill="#8228a8"/><rect x="169" y="64" width="1" height="1" fill="#b880cc"/><rect x="171" y="41" width="1" height="48" fill="#2a6cb6"/><rect x="171" y="64" width="1" height="1" fill="#b0d0ea"/><rect x="174" y="41" width="1" height="48" fill="#2a6cb6"/><rect x="174" y="64" width="1" height="1" fill="#b0d0ea"/><rect x="176" y="41" width="1" height="48" fill="#2a6cb6"/><rect x="176" y="64" width="1" height="1" fill="#b0d0ea"/><rect x="178" y="41" width="1" height="48" fill="#2a6cb6"/><rect x="178" y="64" width="1" height="1" fill="#b0d0ea"/><rect x="180" y="61" width="1" height="6" fill="#8a8a8a"/><rect x="182" y="61" width="1" height="6" fill="#8a8a8a"/><rect x="184" y="60" width="1" height="10" fill="#8228a8"/><rect x="184" y="64" width="1" height="1" fill="#b880cc"/><rect x="187" y="60" width="1" height="10" fill="#8228a8"/><rect x="187" y="64" width="1" height="1" fill="#b880cc"/><rect x="189" y="60" width="1" height="10" fill="#8228a8"/><rect x="189" y="64" width="1" height="1" fill="#b880cc"/><rect x="191" y="60" width="1" height="10" fill="#8228a8"/><rect x="191" y="64" width="1" height="1" fill="#b880cc"/><rect x="193" y="60" width="1" height="10" fill="#8228a8"/><rect x="193" y="64" width="1" height="1" fill="#b880cc"/><rect x="195" y="41" width="1" height="48" fill="#2a6cb6"/><rect x="195" y="64" width="1" height="1" fill="#b0d0ea"/><rect x="197" y="41" width="1" height="48" fill="#2a6cb6"/><rect x="197" y="64" width="1" height="1" fill="#b0d0ea"/><rect x="199" y="41" width="1" height="48" fill="#2a6cb6"/><rect x="199" y="64" width="1" height="1" fill="#b0d0ea"/><rect x="202" y="41" width="1" height="48" fill="#2a6cb6"/><rect x="202" y="64" width="1" height="1" fill="#b0d0ea"/><rect x="204" y="41" width="1" height="48" fill="#2a6cb6"/><rect x="204" y="64" width="1" height="1" fill="#b0d0ea"/><rect x="206" y="41" width="1" height="48" fill="#2a6cb6"/><rect x="206" y="64" width="1" height="1" fill="#b0d0ea"/><rect x="208" y="41" width="1" height="48" fill="#2a6cb6"/><rect x="208" y="64" width="1" height="1" fill="#b0d0ea"/><rect x="210" y="41" width="1" height="48" fill="#2a6cb6"/><rect x="210" y="64" width="1" height="1" fill="#b0d0ea"/><rect x="212" y="41" width="1" height="48" fill="#2a6cb6"/><rect x="212" y="64" width="1" height="1" fill="#b0d0ea"/><rect x="215" y="41" width="1" height="48" fill="#2a6cb6"/><rect x="215" y="64" width="1" height="1" fill="#b0d0ea"/><rect x="217" y="41" width="1" height="48" fill="#2a6cb6"/><rect x="217" y="64" width="1" height="1" fill="#b0d0ea"/><rect x="219" y="41" width="1" height="48" fill="#2a6cb6"/><rect x="219" y="64" width="1" height="1" fill="#b0d0ea"/><rect x="222" y="41" width="2" height="48" fill="#1670dc"/><rect x="222" y="64" width="2" height="1" fill="#b0d4f4"/><rect x="225" y="41" width="1" height="48" fill="#2a6cb6"/><rect x="225" y="64" width="1" height="1" fill="#b0d0ea"/><rect x="227" y="41" width="1" height="48" fill="#2a6cb6"/><rect x="227" y="64" width="1" height="1" fill="#b0d0ea"/><rect x="230" y="61" width="1" height="6" fill="#8a8a8a"/><rect x="232" y="60" width="1" height="10" fill="#8228a8"/><rect x="232" y="64" width="1" height="1" fill="#b880cc"/><rect x="234" y="60" width="1" height="10" fill="#8228a8"/><rect x="234" y="64" width="1" height="1" fill="#b880cc"/><rect x="238" y="60" width="1" height="10" fill="#8228a8"/><rect x="238" y="64" width="1" height="1" fill="#b880cc"/><rect x="240" y="60" width="1" height="10" fill="#8228a8"/><rect x="240" y="64" width="1" height="1" fill="#b880cc"/><rect x="243" y="60" width="1" height="10" fill="#8228a8"/><rect x="243" y="64" width="1" height="1" fill="#b880cc"/><rect x="245" y="60" width="1" height="10" fill="#8228a8"/><rect x="245" y="64" width="1" height="1" fill="#b880cc"/><rect x="247" y="60" width="1" height="10" fill="#8228a8"/><rect x="247" y="64" width="1" height="1" fill="#b880cc"/><rect x="250" y="41" width="2" height="48" fill="#1670dc"/><rect x="250" y="64" width="2" height="1" fill="#b0d4f4"/><rect x="253" y="41" width="1" height="48" fill="#2a6cb6"/><rect x="253" y="64" width="1" height="1" fill="#b0d0ea"/><rect x="256" y="41" width="1" height="48" fill="#2a6cb6"/><rect x="256" y="64" width="1" height="1" fill="#b0d0ea"/><rect x="258" y="41" width="1" height="48" fill="#2a6cb6"/><rect x="258" y="64" width="1" height="1" fill="#b0d0ea"/><rect x="260" y="41" width="1" height="48" fill="#2a6cb6"/><rect x="260" y="64" width="1" height="1" fill="#b0d0ea"/><rect x="263" y="41" width="1" height="48" fill="#2a6cb6"/><rect x="263" y="64" width="1" height="1" fill="#b0d0ea"/><rect x="265" y="41" width="2" height="48" fill="#2a62a8"/><rect x="265" y="64" width="2" height="1" fill="#b0d0ea"/><rect x="268" y="41" width="1" height="48" fill="#2a6cb6"/><rect x="268" y="64" width="1" height="1" fill="#b0d0ea"/><rect x="271" y="41" width="1" height="48" fill="#2a6cb6"/><rect x="271" y="64" width="1" height="1" fill="#b0d0ea"/><rect x="273" y="61" width="1" height="6" fill="#8a8a8a"/><rect x="275" y="60" width="1" height="10" fill="#8228a8"/><rect x="275" y="64" width="1" height="1" fill="#b880cc"/><rect x="278" y="60" width="1" height="10" fill="#8228a8"/><rect x="278" y="64" width="1" height="1" fill="#b880cc"/><rect x="281" y="60" width="1" height="10" fill="#8228a8"/><rect x="281" y="64" width="1" height="1" fill="#b880cc"/><rect x="284" y="60" width="1" height="10" fill="#8228a8"/><rect x="284" y="64" width="1" height="1" fill="#b880cc"/><rect x="286" y="60" width="1" height="10" fill="#8228a8"/><rect x="286" y="64" width="1" height="1" fill="#b880cc"/><rect x="288" y="60" width="1" height="10" fill="#8228a8"/><rect x="288" y="64" width="1" height="1" fill="#b880cc"/><rect x="291" y="41" width="1" height="48" fill="#2a6cb6"/><rect x="291" y="64" width="1" height="1" fill="#b0d0ea"/><rect x="293" y="41" width="2" height="48" fill="#2a62a8"/><rect x="293" y="64" width="2" height="1" fill="#b0d0ea"/><rect x="297" y="41" width="1" height="48" fill="#2a6cb6"/><rect x="297" y="64" width="1" height="1" fill="#b0d0ea"/><rect x="299" y="41" width="1" height="48" fill="#2a6cb6"/><rect x="299" y="64" width="1" height="1" fill="#b0d0ea"/><rect x="301" y="41" width="1" height="48" fill="#2a6cb6"/><rect x="301" y="64" width="1" height="1" fill="#b0d0ea"/><rect x="303" y="41" width="1" height="48" fill="#2a6cb6"/><rect x="303" y="64" width="1" height="1" fill="#b0d0ea"/><rect x="306" y="41" width="1" height="48" fill="#2a6cb6"/><rect x="306" y="64" width="1" height="1" fill="#b0d0ea"/><rect x="308" y="41" width="2" height="48" fill="#1670dc"/><rect x="308" y="64" width="2" height="1" fill="#b0d4f4"/><rect x="312" y="61" width="1" height="6" fill="#8a8a8a"/><rect x="314" y="41" width="1" height="48" fill="#2a6cb6"/><rect x="314" y="64" width="1" height="1" fill="#b0d0ea"/><rect x="316" y="60" width="1" height="10" fill="#8228a8"/><rect x="316" y="64" width="1" height="1" fill="#b880cc"/><rect x="319" y="60" width="1" height="10" fill="#8228a8"/><rect x="319" y="64" width="1" height="1" fill="#b880cc"/><rect x="321" y="61" width="1" height="6" fill="#8a8a8a"/><rect x="325" y="41" width="1" height="48" fill="#2a6cb6"/><rect x="325" y="64" width="1" height="1" fill="#b0d0ea"/><rect x="327" y="41" width="1" height="48" fill="#2a6cb6"/><rect x="327" y="64" width="1" height="1" fill="#b0d0ea"/><rect x="329" y="41" width="1" height="48" fill="#2a6cb6"/><rect x="329" y="64" width="1" height="1" fill="#b0d0ea"/><rect x="332" y="41" width="1" height="48" fill="#2a6cb6"/><rect x="332" y="64" width="1" height="1" fill="#b0d0ea"/><rect x="334" y="41" width="1" height="48" fill="#2a6cb6"/><rect x="334" y="64" width="1" height="1" fill="#b0d0ea"/><rect x="336" y="41" width="1" height="48" fill="#2a6cb6"/><rect x="336" y="64" width="1" height="1" fill="#b0d0ea"/><rect x="338" y="41" width="1" height="48" fill="#2a6cb6"/><rect x="338" y="64" width="1" height="1" fill="#b0d0ea"/><rect x="340" y="41" width="1" height="48" fill="#2a6cb6"/><rect x="340" y="64" width="1" height="1" fill="#b0d0ea"/><rect x="342" y="41" width="1" height="48" fill="#2a6cb6"/><rect x="342" y="64" width="1" height="1" fill="#b0d0ea"/><rect x="344" y="61" width="1" height="6" fill="#8a8a8a"/><rect x="347" y="60" width="1" height="10" fill="#8228a8"/><rect x="347" y="64" width="1" height="1" fill="#b880cc"/><rect x="349" y="60" width="1" height="10" fill="#8228a8"/><rect x="349" y="64" width="1" height="1" fill="#b880cc"/><rect x="351" y="60" width="1" height="10" fill="#8228a8"/><rect x="351" y="64" width="1" height="1" fill="#b880cc"/><rect x="353" y="60" width="1" height="10" fill="#8228a8"/><rect x="353" y="64" width="1" height="1" fill="#b880cc"/><rect x="355" y="60" width="1" height="10" fill="#8228a8"/><rect x="355" y="64" width="1" height="1" fill="#b880cc"/><rect x="357" y="60" width="1" height="10" fill="#8228a8"/><rect x="357" y="64" width="1" height="1" fill="#b880cc"/><rect x="360" y="60" width="1" height="10" fill="#8228a8"/><rect x="360" y="64" width="1" height="1" fill="#b880cc"/><rect x="362" y="60" width="1" height="10" fill="#8228a8"/><rect x="362" y="64" width="1" height="1" fill="#b880cc"/><rect x="364" y="61" width="1" height="6" fill="#8a8a8a"/><rect x="366" y="41" width="1" height="48" fill="#2a6cb6"/><rect x="366" y="64" width="1" height="1" fill="#b0d0ea"/><rect x="368" y="41" width="1" height="48" fill="#2a6cb6"/><rect x="368" y="64" width="1" height="1" fill="#b0d0ea"/><rect x="370" y="41" width="1" height="48" fill="#2a6cb6"/><rect x="370" y="64" width="1" height="1" fill="#b0d0ea"/><rect x="373" y="41" width="1" height="48" fill="#2a6cb6"/><rect x="373" y="64" width="1" height="1" fill="#b0d0ea"/><rect x="375" y="41" width="1" height="48" fill="#2a6cb6"/><rect x="375" y="64" width="1" height="1" fill="#b0d0ea"/><rect x="377" y="41" width="1" height="48" fill="#2a6cb6"/><rect x="377" y="64" width="1" height="1" fill="#b0d0ea"/><rect x="379" y="41" width="1" height="48" fill="#2a6cb6"/><rect x="379" y="64" width="1" height="1" fill="#b0d0ea"/><rect x="381" y="41" width="1" height="48" fill="#2a6cb6"/><rect x="381" y="64" width="1" height="1" fill="#b0d0ea"/><rect x="383" y="41" width="1" height="48" fill="#2a6cb6"/><rect x="383" y="64" width="1" height="1" fill="#b0d0ea"/><rect x="385" y="41" width="1" height="48" fill="#2a6cb6"/><rect x="385" y="64" width="1" height="1" fill="#b0d0ea"/><rect x="388" y="41" width="1" height="48" fill="#2a6cb6"/><rect x="388" y="64" width="1" height="1" fill="#b0d0ea"/><rect x="390" y="41" width="1" height="48" fill="#2a6cb6"/><rect x="390" y="64" width="1" height="1" fill="#b0d0ea"/><rect x="392" y="41" width="1" height="48" fill="#2a6cb6"/><rect x="392" y="64" width="1" height="1" fill="#b0d0ea"/><rect x="396" y="41" width="1" height="48" fill="#2a6cb6"/><rect x="396" y="64" width="1" height="1" fill="#b0d0ea"/><rect x="398" y="41" width="1" height="48" fill="#2a6cb6"/><rect x="398" y="64" width="1" height="1" fill="#b0d0ea"/><rect x="401" y="41" width="1" height="48" fill="#2a6cb6"/><rect x="401" y="64" width="1" height="1" fill="#b0d0ea"/><rect x="403" y="41" width="1" height="48" fill="#2a6cb6"/><rect x="403" y="64" width="1" height="1" fill="#b0d0ea"/><rect x="405" y="41" width="1" height="48" fill="#2a6cb6"/><rect x="405" y="64" width="1" height="1" fill="#b0d0ea"/><rect x="408" y="41" width="2" height="48" fill="#1670dc"/><rect x="408" y="64" width="2" height="1" fill="#b0d4f4"/><rect x="411" y="41" width="1" height="48" fill="#2a6cb6"/><rect x="411" y="64" width="1" height="1" fill="#b0d0ea"/><rect x="414" y="41" width="1" height="48" fill="#2a6cb6"/><rect x="414" y="64" width="1" height="1" fill="#b0d0ea"/><rect x="416" y="60" width="1" height="10" fill="#8228a8"/><rect x="416" y="64" width="1" height="1" fill="#b880cc"/><rect x="418" y="60" width="1" height="10" fill="#8228a8"/><rect x="418" y="64" width="1" height="1" fill="#b880cc"/><rect x="420" y="60" width="1" height="10" fill="#8228a8"/><rect x="420" y="64" width="1" height="1" fill="#b880cc"/><rect x="423" y="60" width="2" height="10" fill="#741c9c"/><rect x="423" y="64" width="2" height="1" fill="#b47cc8"/><rect x="426" y="60" width="1" height="10" fill="#8228a8"/><rect x="426" y="64" width="1" height="1" fill="#b880cc"/><rect x="429" y="60" width="1" height="10" fill="#8228a8"/><rect x="429" y="64" width="1" height="1" fill="#b880cc"/><rect x="431" y="41" width="1" height="48" fill="#2a6cb6"/><rect x="431" y="64" width="1" height="1" fill="#b0d0ea"/><rect x="433" y="41" width="1" height="48" fill="#2a6cb6"/><rect x="433" y="64" width="1" height="1" fill="#b0d0ea"/><rect x="436" y="41" width="1" height="48" fill="#2a6cb6"/><rect x="436" y="64" width="1" height="1" fill="#b0d0ea"/><rect x="439" y="41" width="1" height="48" fill="#2a6cb6"/><rect x="439" y="64" width="1" height="1" fill="#b0d0ea"/><rect x="442" y="41" width="1" height="48" fill="#2a6cb6"/><rect x="442" y="64" width="1" height="1" fill="#b0d0ea"/><rect x="444" y="41" width="1" height="48" fill="#2a6cb6"/><rect x="444" y="64" width="1" height="1" fill="#b0d0ea"/><rect x="446" y="41" width="1" height="48" fill="#2a6cb6"/><rect x="446" y="64" width="1" height="1" fill="#b0d0ea"/><rect x="449" y="41" width="1" height="48" fill="#2a6cb6"/><rect x="449" y="64" width="1" height="1" fill="#b0d0ea"/><rect x="451" y="41" width="2" height="48" fill="#2a62a8"/><rect x="451" y="64" width="2" height="1" fill="#b0d0ea"/><rect x="454" y="41" width="1" height="48" fill="#2a6cb6"/><rect x="454" y="64" width="1" height="1" fill="#b0d0ea"/><rect x="457" y="41" width="1" height="48" fill="#2a6cb6"/><rect x="457" y="64" width="1" height="1" fill="#b0d0ea"/><rect x="459" y="41" width="1" height="48" fill="#2a6cb6"/><rect x="459" y="64" width="1" height="1" fill="#b0d0ea"/><rect x="461" y="61" width="1" height="6" fill="#8a8a8a"/><rect x="464" y="60" width="1" height="10" fill="#8228a8"/><rect x="464" y="64" width="1" height="1" fill="#b880cc"/><rect x="466" y="60" width="2" height="10" fill="#9300e0"/><rect x="466" y="64" width="2" height="1" fill="#d8a0f8"/><rect x="470" y="60" width="1" height="10" fill="#8228a8"/><rect x="470" y="64" width="1" height="1" fill="#b880cc"/><rect x="472" y="60" width="1" height="10" fill="#8228a8"/><rect x="472" y="64" width="1" height="1" fill="#b880cc"/><rect x="474" y="60" width="1" height="10" fill="#8228a8"/><rect x="474" y="64" width="1" height="1" fill="#b880cc"/><rect x="477" y="60" width="1" height="10" fill="#8228a8"/><rect x="477" y="64" width="1" height="1" fill="#b880cc"/><rect x="479" y="61" width="1" height="6" fill="#8a8a8a"/><rect x="483" y="60" width="1" height="10" fill="#8228a8"/><rect x="483" y="64" width="1" height="1" fill="#b880cc"/><rect x="485" y="61" width="1" height="6" fill="#8a8a8a"/><rect x="487" y="60" width="1" height="10" fill="#8228a8"/><rect x="487" y="64" width="1" height="1" fill="#b880cc"/><rect x="490" y="60" width="1" height="10" fill="#8228a8"/><rect x="490" y="64" width="1" height="1" fill="#b880cc"/><rect x="492" y="60" width="1" height="10" fill="#8228a8"/><rect x="492" y="64" width="1" height="1" fill="#b880cc"/><rect x="494" y="60" width="2" height="10" fill="#d01080"/><rect x="494" y="64" width="2" height="1" fill="#f0a0c8"/><rect x="495" y="50" width="1" height="29" fill="#af2328"/><rect x="495" y="64" width="1" height="1" fill="#dca0a0"/><rect x="498" y="50" width="1" height="29" fill="#af2328"/><rect x="498" y="64" width="1" height="1" fill="#dca0a0"/><rect x="500" y="50" width="1" height="29" fill="#af2328"/><rect x="500" y="64" width="1" height="1" fill="#dca0a0"/><rect x="502" y="50" width="1" height="29" fill="#af2328"/><rect x="502" y="64" width="1" height="1" fill="#dca0a0"/><rect x="505" y="50" width="1" height="29" fill="#af2328"/><rect x="505" y="64" width="1" height="1" fill="#dca0a0"/><rect x="507" y="60" width="1" height="10" fill="#8228a8"/><rect x="507" y="64" width="1" height="1" fill="#b880cc"/><rect x="509" y="60" width="1" height="10" fill="#8228a8"/><rect x="509" y="64" width="1" height="1" fill="#b880cc"/><rect x="511" y="60" width="1" height="10" fill="#8228a8"/><rect x="511" y="64" width="1" height="1" fill="#b880cc"/><rect x="513" y="60" width="1" height="10" fill="#8228a8"/><rect x="513" y="64" width="1" height="1" fill="#b880cc"/><rect x="515" y="60" width="1" height="10" fill="#8228a8"/><rect x="515" y="64" width="1" height="1" fill="#b880cc"/><rect x="518" y="60" width="1" height="10" fill="#8228a8"/><rect x="518" y="64" width="1" height="1" fill="#b880cc"/><rect x="520" y="60" width="1" height="10" fill="#8228a8"/><rect x="520" y="64" width="1" height="1" fill="#b880cc"/><rect x="522" y="61" width="1" height="6" fill="#8a8a8a"/><rect x="524" y="50" width="1" height="29" fill="#af2328"/><rect x="524" y="64" width="1" height="1" fill="#dca0a0"/><rect x="526" y="50" width="1" height="29" fill="#af2328"/><rect x="526" y="64" width="1" height="1" fill="#dca0a0"/><rect x="528" y="60" width="1" height="10" fill="#8228a8"/><rect x="528" y="64" width="1" height="1" fill="#b880cc"/><rect x="530" y="60" width="1" height="10" fill="#8228a8"/><rect x="530" y="64" width="1" height="1" fill="#b880cc"/><rect x="533" y="60" width="1" height="10" fill="#8228a8"/><rect x="533" y="64" width="1" height="1" fill="#b880cc"/><rect x="535" y="60" width="1" height="10" fill="#8228a8"/><rect x="535" y="64" width="1" height="1" fill="#b880cc"/><rect x="537" y="60" width="1" height="10" fill="#8228a8"/><rect x="537" y="64" width="1" height="1" fill="#b880cc"/><rect x="539" y="60" width="1" height="10" fill="#8228a8"/><rect x="539" y="64" width="1" height="1" fill="#b880cc"/><rect x="541" y="60" width="1" height="10" fill="#8228a8"/><rect x="541" y="64" width="1" height="1" fill="#b880cc"/><rect x="543" y="61" width="1" height="6" fill="#8a8a8a"/><rect x="546" y="41" width="1" height="48" fill="#2a6cb6"/><rect x="546" y="64" width="1" height="1" fill="#b0d0ea"/><rect x="548" y="41" width="1" height="48" fill="#2a6cb6"/><rect x="548" y="64" width="1" height="1" fill="#b0d0ea"/><rect x="550" y="41" width="1" height="48" fill="#2a6cb6"/><rect x="550" y="64" width="1" height="1" fill="#b0d0ea"/><rect x="554" y="41" width="1" height="48" fill="#2a6cb6"/><rect x="554" y="64" width="1" height="1" fill="#b0d0ea"/><rect x="556" y="41" width="1" height="48" fill="#2a6cb6"/><rect x="556" y="64" width="1" height="1" fill="#b0d0ea"/><rect x="559" y="41" width="1" height="48" fill="#2a6cb6"/><rect x="559" y="64" width="1" height="1" fill="#b0d0ea"/><rect x="561" y="41" width="1" height="48" fill="#2a6cb6"/><rect x="561" y="64" width="1" height="1" fill="#b0d0ea"/><rect x="563" y="41" width="1" height="48" fill="#2a6cb6"/><rect x="563" y="64" width="1" height="1" fill="#b0d0ea"/><rect x="566" y="41" width="2" height="48" fill="#1670dc"/><rect x="566" y="64" width="2" height="1" fill="#b0d4f4"/><rect x="569" y="41" width="1" height="48" fill="#2a6cb6"/><rect x="569" y="64" width="1" height="1" fill="#b0d0ea"/><rect x="571" y="41" width="1" height="48" fill="#2a6cb6"/><rect x="571" y="64" width="1" height="1" fill="#b0d0ea"/><rect x="574" y="41" width="1" height="48" fill="#2a6cb6"/><rect x="574" y="64" width="1" height="1" fill="#b0d0ea"/><rect x="576" y="41" width="1" height="48" fill="#2a6cb6"/><rect x="576" y="64" width="1" height="1" fill="#b0d0ea"/><rect x="578" y="41" width="1" height="48" fill="#2a6cb6"/><rect x="578" y="64" width="1" height="1" fill="#b0d0ea"/><rect x="581" y="41" width="2" height="48" fill="#2a62a8"/><rect x="581" y="64" width="2" height="1" fill="#b0d0ea"/><rect x="584" y="41" width="1" height="48" fill="#2a6cb6"/><rect x="584" y="64" width="1" height="1" fill="#b0d0ea"/><rect x="587" y="41" width="1" height="48" fill="#2a6cb6"/><rect x="587" y="64" width="1" height="1" fill="#b0d0ea"/><rect x="589" y="41" width="1" height="48" fill="#2a6cb6"/><rect x="589" y="64" width="1" height="1" fill="#b0d0ea"/><rect x="591" y="41" width="1" height="48" fill="#2a6cb6"/><rect x="591" y="64" width="1" height="1" fill="#b0d0ea"/><rect x="594" y="41" width="1" height="48" fill="#2a6cb6"/><rect x="594" y="64" width="1" height="1" fill="#b0d0ea"/><rect x="597" y="41" width="1" height="48" fill="#2a6cb6"/><rect x="597" y="64" width="1" height="1" fill="#b0d0ea"/><rect x="600" y="41" width="1" height="48" fill="#2a6cb6"/><rect x="600" y="64" width="1" height="1" fill="#b0d0ea"/><rect x="602" y="41" width="1" height="48" fill="#2a6cb6"/><rect x="602" y="64" width="1" height="1" fill="#b0d0ea"/><rect x="604" y="41" width="1" height="48" fill="#2a6cb6"/><rect x="604" y="64" width="1" height="1" fill="#b0d0ea"/><rect x="606" y="41" width="1" height="48" fill="#2a6cb6"/><rect x="606" y="64" width="1" height="1" fill="#b0d0ea"/><rect x="609" y="41" width="2" height="48" fill="#2a62a8"/><rect x="609" y="64" width="2" height="1" fill="#b0d0ea"/><rect x="612" y="41" width="1" height="48" fill="#2a6cb6"/><rect x="612" y="64" width="1" height="1" fill="#b0d0ea"/><rect x="615" y="41" width="1" height="48" fill="#2a6cb6"/><rect x="615" y="64" width="1" height="1" fill="#b0d0ea"/><rect x="617" y="41" width="1" height="48" fill="#2a6cb6"/><rect x="617" y="64" width="1" height="1" fill="#b0d0ea"/><rect x="619" y="41" width="1" height="48" fill="#2a6cb6"/><rect x="619" y="64" width="1" height="1" fill="#b0d0ea"/><rect x="622" y="41" width="1" height="48" fill="#2a6cb6"/><rect x="622" y="64" width="1" height="1" fill="#b0d0ea"/><rect x="624" y="41" width="2" height="48" fill="#1670dc"/><rect x="624" y="64" width="2" height="1" fill="#b0d4f4"/><rect x="628" y="41" width="1" height="48" fill="#2a6cb6"/><rect x="628" y="64" width="1" height="1" fill="#b0d0ea"/><rect x="630" y="41" width="1" height="48" fill="#2a6cb6"/><rect x="630" y="64" width="1" height="1" fill="#b0d0ea"/><rect x="632" y="41" width="1" height="48" fill="#2a6cb6"/><rect x="632" y="64" width="1" height="1" fill="#b0d0ea"/><rect x="635" y="41" width="1" height="48" fill="#2a6cb6"/><rect x="635" y="64" width="1" height="1" fill="#b0d0ea"/><rect x="637" y="41" width="1" height="48" fill="#2a6cb6"/><rect x="637" y="64" width="1" height="1" fill="#b0d0ea"/><rect x="641" y="41" width="1" height="48" fill="#2a6cb6"/><rect x="641" y="64" width="1" height="1" fill="#b0d0ea"/><rect x="643" y="41" width="1" height="48" fill="#2a6cb6"/><rect x="643" y="64" width="1" height="1" fill="#b0d0ea"/><rect x="645" y="41" width="1" height="48" fill="#2a6cb6"/><rect x="645" y="64" width="1" height="1" fill="#b0d0ea"/><rect x="647" y="61" width="1" height="6" fill="#8a8a8a"/><rect x="650" y="60" width="1" height="10" fill="#8228a8"/><rect x="650" y="64" width="1" height="1" fill="#b880cc"/><rect x="652" y="60" width="1" height="10" fill="#d080f0"/><rect x="652" y="64" width="1" height="1" fill="#f0d0f8"/><rect x="653" y="60" width="1" height="10" fill="#8228a8"/><rect x="653" y="64" width="1" height="1" fill="#b880cc"/><rect x="656" y="60" width="1" height="10" fill="#8228a8"/><rect x="656" y="64" width="1" height="1" fill="#b880cc"/><rect x="658" y="60" width="1" height="10" fill="#8228a8"/><rect x="658" y="64" width="1" height="1" fill="#b880cc"/><rect x="660" y="60" width="1" height="10" fill="#8228a8"/><rect x="660" y="64" width="1" height="1" fill="#b880cc"/><rect x="663" y="61" width="1" height="6" fill="#8a8a8a"/><rect x="665" y="41" width="1" height="48" fill="#2a6cb6"/><rect x="665" y="64" width="1" height="1" fill="#b0d0ea"/><rect x="667" y="41" width="1" height="48" fill="#2a6cb6"/><rect x="667" y="64" width="1" height="1" fill="#b0d0ea"/><rect x="669" y="41" width="1" height="48" fill="#2a6cb6"/><rect x="669" y="64" width="1" height="1" fill="#b0d0ea"/><rect x="671" y="41" width="1" height="48" fill="#2a6cb6"/><rect x="671" y="64" width="1" height="1" fill="#b0d0ea"/><rect x="673" y="41" width="1" height="48" fill="#2a6cb6"/><rect x="673" y="64" width="1" height="1" fill="#b0d0ea"/><rect x="676" y="41" width="1" height="48" fill="#2a6cb6"/><rect x="676" y="64" width="1" height="1" fill="#b0d0ea"/><rect x="678" y="41" width="1" height="48" fill="#2a6cb6"/><rect x="678" y="64" width="1" height="1" fill="#b0d0ea"/><rect x="680" y="41" width="1" height="48" fill="#2a6cb6"/><rect x="680" y="64" width="1" height="1" fill="#b0d0ea"/><rect x="684" y="61" width="1" height="6" fill="#8a8a8a"/><rect x="686" y="61" width="1" height="6" fill="#8a8a8a"/><rect x="688" y="61" width="1" height="6" fill="#8a8a8a"/><rect x="691" y="60" width="1" height="10" fill="#8228a8"/><rect x="691" y="64" width="1" height="1" fill="#b880cc"/><rect x="693" y="60" width="1" height="10" fill="#8228a8"/><rect x="693" y="64" width="1" height="1" fill="#b880cc"/><rect x="695" y="60" width="1" height="10" fill="#8228a8"/><rect x="695" y="64" width="1" height="1" fill="#b880cc"/><rect x="697" y="60" width="1" height="10" fill="#8228a8"/><rect x="697" y="64" width="1" height="1" fill="#b880cc"/><rect x="18" y="36" width="682" height="1" fill="#000"/><rect x="18" y="92" width="682" height="1" fill="#000"/><rect x="18" y="36" width="1" height="57" fill="#000"/><rect x="699" y="36" width="1" height="57" fill="#000"/><rect x="174" y="154" width="1" height="5" fill="#000"/><rect x="174" y="205" width="1" height="4" fill="#000"/><rect x="333" y="154" width="1" height="5" fill="#000"/><rect x="333" y="205" width="1" height="4" fill="#000"/><rect x="493" y="154" width="1" height="5" fill="#000"/><rect x="493" y="205" width="1" height="4" fill="#000"/><rect x="652" y="154" width="1" height="5" fill="#000"/><rect x="652" y="205" width="1" height="4" fill="#000"/><rect x="20" y="177" width="3" height="4" fill="#f8dcf9"/><rect x="20" y="182" width="3" height="5" fill="#f8dcf9"/><rect x="23" y="177" width="3" height="4" fill="#f8dcf9"/><rect x="23" y="182" width="3" height="5" fill="#f8dcf9"/><rect x="26" y="177" width="3" height="4" fill="#f8dcf9"/><rect x="26" y="182" width="3" height="5" fill="#f8dcf9"/><rect x="39" y="158" width="3" height="23" fill="#bdeeff"/><rect x="39" y="182" width="3" height="24" fill="#bdeeff"/><rect x="42" y="158" width="3" height="23" fill="#bdeeff"/><rect x="42" y="182" width="3" height="24" fill="#bdeeff"/><rect x="46" y="158" width="3" height="23" fill="#bdeeff"/><rect x="46" y="182" width="3" height="24" fill="#bdeeff"/><rect x="51" y="158" width="3" height="23" fill="#bdeeff"/><rect x="51" y="182" width="3" height="24" fill="#bdeeff"/><rect x="55" y="167" width="3" height="14" fill="#ffdadd"/><rect x="55" y="182" width="3" height="14" fill="#ffdadd"/><rect x="68" y="177" width="3" height="4" fill="#f8dcf9"/><rect x="68" y="182" width="3" height="5" fill="#f8dcf9"/><rect x="71" y="177" width="3" height="4" fill="#f8dcf9"/><rect x="71" y="182" width="3" height="5" fill="#f8dcf9"/><rect x="74" y="177" width="3" height="4" fill="#f8dcf9"/><rect x="74" y="182" width="3" height="5" fill="#f8dcf9"/><rect x="80" y="177" width="3" height="4" fill="#f8dcf9"/><rect x="80" y="182" width="3" height="5" fill="#f8dcf9"/><rect x="84" y="177" width="3" height="4" fill="#f8dcf9"/><rect x="84" y="182" width="3" height="5" fill="#f8dcf9"/><rect x="87" y="177" width="3" height="4" fill="#f8dcf9"/><rect x="87" y="182" width="3" height="5" fill="#f8dcf9"/><rect x="93" y="167" width="3" height="14" fill="#ffdadd"/><rect x="93" y="182" width="3" height="14" fill="#ffdadd"/><rect x="96" y="167" width="3" height="14" fill="#ffdadd"/><rect x="96" y="182" width="3" height="14" fill="#ffdadd"/><rect x="100" y="167" width="3" height="14" fill="#ffdadd"/><rect x="100" y="182" width="3" height="14" fill="#ffdadd"/><rect x="103" y="167" width="3" height="14" fill="#ffdadd"/><rect x="103" y="182" width="3" height="14" fill="#ffdadd"/><rect x="106" y="167" width="3" height="14" fill="#ffdadd"/><rect x="106" y="182" width="3" height="14" fill="#ffdadd"/><rect x="109" y="177" width="3" height="4" fill="#f8dcf9"/><rect x="109" y="182" width="3" height="5" fill="#f8dcf9"/><rect x="112" y="177" width="3" height="4" fill="#f8dcf9"/><rect x="112" y="182" width="3" height="5" fill="#f8dcf9"/><rect x="116" y="177" width="3" height="4" fill="#f8dcf9"/><rect x="116" y="182" width="3" height="5" fill="#f8dcf9"/><rect x="119" y="177" width="3" height="4" fill="#f8dcf9"/><rect x="119" y="182" width="3" height="5" fill="#f8dcf9"/><rect x="121" y="177" width="3" height="4" fill="#f8dcf9"/><rect x="121" y="182" width="3" height="5" fill="#f8dcf9"/><rect x="125" y="177" width="3" height="4" fill="#f8dcf9"/><rect x="125" y="182" width="3" height="5" fill="#f8dcf9"/><rect x="132" y="158" width="3" height="23" fill="#bdeeff"/><rect x="132" y="182" width="3" height="24" fill="#bdeeff"/><rect x="137" y="158" width="3" height="23" fill="#bdeeff"/><rect x="137" y="182" width="3" height="24" fill="#bdeeff"/><rect x="141" y="158" width="3" height="23" fill="#bdeeff"/><rect x="141" y="182" width="3" height="24" fill="#bdeeff"/><rect x="144" y="158" width="3" height="23" fill="#bdeeff"/><rect x="144" y="182" width="3" height="24" fill="#bdeeff"/><rect x="148" y="158" width="3" height="23" fill="#bdeeff"/><rect x="148" y="182" width="3" height="24" fill="#bdeeff"/><rect x="150" y="158" width="3" height="23" fill="#bdeeff"/><rect x="150" y="182" width="3" height="24" fill="#bdeeff"/><rect x="153" y="158" width="3" height="23" fill="#bdeeff"/><rect x="153" y="182" width="3" height="24" fill="#bdeeff"/><rect x="157" y="158" width="3" height="23" fill="#bdeeff"/><rect x="157" y="182" width="3" height="24" fill="#bdeeff"/><rect x="160" y="158" width="3" height="23" fill="#bdeeff"/><rect x="160" y="182" width="3" height="24" fill="#bdeeff"/><rect x="166" y="158" width="3" height="23" fill="#bdeeff"/><rect x="166" y="182" width="3" height="24" fill="#bdeeff"/><rect x="170" y="158" width="3" height="23" fill="#bdeeff"/><rect x="170" y="182" width="3" height="24" fill="#bdeeff"/><rect x="173" y="158" width="3" height="23" fill="#bdeeff"/><rect x="173" y="182" width="3" height="24" fill="#bdeeff"/><rect x="176" y="158" width="3" height="23" fill="#bdeeff"/><rect x="176" y="182" width="3" height="24" fill="#bdeeff"/><rect x="179" y="158" width="3" height="23" fill="#bdeeff"/><rect x="179" y="182" width="3" height="24" fill="#bdeeff"/><rect x="182" y="158" width="3" height="23" fill="#bdeeff"/><rect x="182" y="182" width="3" height="24" fill="#bdeeff"/><rect x="186" y="177" width="3" height="4" fill="#f8dcf9"/><rect x="186" y="182" width="3" height="5" fill="#f8dcf9"/><rect x="189" y="177" width="3" height="4" fill="#f8dcf9"/><rect x="189" y="182" width="3" height="5" fill="#f8dcf9"/><rect x="192" y="177" width="3" height="4" fill="#f8dcf9"/><rect x="192" y="182" width="3" height="5" fill="#f8dcf9"/><rect x="195" y="177" width="3" height="4" fill="#f8dcf9"/><rect x="195" y="182" width="3" height="5" fill="#f8dcf9"/><rect x="198" y="177" width="3" height="4" fill="#f8dcf9"/><rect x="198" y="182" width="3" height="5" fill="#f8dcf9"/><rect x="202" y="177" width="3" height="4" fill="#f8dcf9"/><rect x="202" y="182" width="3" height="5" fill="#f8dcf9"/><rect x="205" y="177" width="3" height="4" fill="#f8dcf9"/><rect x="205" y="182" width="3" height="5" fill="#f8dcf9"/><rect x="207" y="177" width="3" height="4" fill="#f8dcf9"/><rect x="207" y="182" width="3" height="5" fill="#f8dcf9"/><rect x="211" y="177" width="3" height="4" fill="#f8dcf9"/><rect x="211" y="182" width="3" height="5" fill="#f8dcf9"/><rect x="214" y="177" width="3" height="4" fill="#f8dcf9"/><rect x="214" y="182" width="3" height="5" fill="#f8dcf9"/><rect x="218" y="177" width="3" height="4" fill="#f8dcf9"/><rect x="218" y="182" width="3" height="5" fill="#f8dcf9"/><rect x="221" y="177" width="3" height="4" fill="#f8dcf9"/><rect x="221" y="182" width="3" height="5" fill="#f8dcf9"/><rect x="223" y="177" width="3" height="4" fill="#f8dcf9"/><rect x="223" y="182" width="3" height="5" fill="#f8dcf9"/><rect x="227" y="177" width="3" height="4" fill="#f8dcf9"/><rect x="227" y="182" width="3" height="5" fill="#f8dcf9"/><rect x="230" y="177" width="3" height="4" fill="#f8dcf9"/><rect x="230" y="182" width="3" height="5" fill="#f8dcf9"/><rect x="234" y="177" width="3" height="4" fill="#f8dcf9"/><rect x="234" y="182" width="3" height="5" fill="#f8dcf9"/><rect x="236" y="177" width="3" height="4" fill="#f8dcf9"/><rect x="236" y="182" width="3" height="5" fill="#f8dcf9"/><rect x="239" y="177" width="3" height="4" fill="#f8dcf9"/><rect x="239" y="182" width="3" height="5" fill="#f8dcf9"/><rect x="243" y="158" width="3" height="23" fill="#bdeeff"/><rect x="243" y="182" width="3" height="24" fill="#bdeeff"/><rect x="246" y="158" width="3" height="23" fill="#bdeeff"/><rect x="246" y="182" width="3" height="24" fill="#bdeeff"/><rect x="252" y="158" width="3" height="23" fill="#bdeeff"/><rect x="252" y="182" width="3" height="24" fill="#bdeeff"/><rect x="255" y="158" width="3" height="23" fill="#bdeeff"/><rect x="255" y="182" width="3" height="24" fill="#bdeeff"/><rect x="259" y="158" width="3" height="23" fill="#bdeeff"/><rect x="259" y="182" width="3" height="24" fill="#bdeeff"/><rect x="262" y="177" width="3" height="4" fill="#f8dcf9"/><rect x="262" y="182" width="3" height="5" fill="#f8dcf9"/><rect x="265" y="177" width="3" height="4" fill="#f8dcf9"/><rect x="265" y="182" width="3" height="5" fill="#f8dcf9"/><rect x="268" y="177" width="3" height="4" fill="#f8dcf9"/><rect x="268" y="182" width="3" height="5" fill="#f8dcf9"/><rect x="272" y="177" width="3" height="4" fill="#f8dcf9"/><rect x="272" y="182" width="3" height="5" fill="#f8dcf9"/><rect x="275" y="158" width="3" height="23" fill="#bdeeff"/><rect x="275" y="182" width="3" height="24" fill="#bdeeff"/><rect x="278" y="158" width="3" height="23" fill="#bdeeff"/><rect x="278" y="182" width="3" height="24" fill="#bdeeff"/><rect x="281" y="158" width="3" height="23" fill="#bdeeff"/><rect x="281" y="182" width="3" height="24" fill="#bdeeff"/><rect x="284" y="158" width="3" height="23" fill="#bdeeff"/><rect x="284" y="182" width="3" height="24" fill="#bdeeff"/><rect x="288" y="158" width="3" height="23" fill="#bdeeff"/><rect x="288" y="182" width="3" height="24" fill="#bdeeff"/><rect x="291" y="158" width="3" height="23" fill="#bdeeff"/><rect x="291" y="182" width="3" height="24" fill="#bdeeff"/><rect x="293" y="158" width="3" height="23" fill="#bdeeff"/><rect x="293" y="182" width="3" height="24" fill="#bdeeff"/><rect x="297" y="158" width="3" height="23" fill="#bdeeff"/><rect x="297" y="182" width="3" height="24" fill="#bdeeff"/><rect x="300" y="158" width="3" height="23" fill="#bdeeff"/><rect x="300" y="182" width="3" height="24" fill="#bdeeff"/><rect x="304" y="158" width="3" height="23" fill="#bdeeff"/><rect x="304" y="182" width="3" height="24" fill="#bdeeff"/><rect x="307" y="158" width="3" height="23" fill="#bdeeff"/><rect x="307" y="182" width="3" height="24" fill="#bdeeff"/><rect x="309" y="158" width="3" height="23" fill="#bdeeff"/><rect x="309" y="182" width="3" height="24" fill="#bdeeff"/><rect x="313" y="158" width="3" height="23" fill="#bdeeff"/><rect x="313" y="182" width="3" height="24" fill="#bdeeff"/><rect x="316" y="158" width="3" height="23" fill="#bdeeff"/><rect x="316" y="182" width="3" height="24" fill="#bdeeff"/><rect x="320" y="158" width="3" height="23" fill="#bdeeff"/><rect x="320" y="182" width="3" height="24" fill="#bdeeff"/><rect x="322" y="158" width="3" height="23" fill="#bdeeff"/><rect x="322" y="182" width="3" height="24" fill="#bdeeff"/><rect x="325" y="158" width="3" height="23" fill="#bdeeff"/><rect x="325" y="182" width="3" height="24" fill="#bdeeff"/><rect x="329" y="177" width="3" height="4" fill="#f8dcf9"/><rect x="329" y="182" width="3" height="5" fill="#f8dcf9"/><rect x="332" y="177" width="3" height="4" fill="#f8dcf9"/><rect x="332" y="182" width="3" height="5" fill="#f8dcf9"/><rect x="338" y="177" width="3" height="4" fill="#f8dcf9"/><rect x="338" y="182" width="3" height="5" fill="#f8dcf9"/><rect x="341" y="177" width="3" height="4" fill="#f8dcf9"/><rect x="341" y="182" width="3" height="5" fill="#f8dcf9"/><rect x="345" y="177" width="3" height="4" fill="#f8dcf9"/><rect x="345" y="182" width="3" height="5" fill="#f8dcf9"/><rect x="348" y="177" width="3" height="4" fill="#f8dcf9"/><rect x="348" y="182" width="3" height="5" fill="#f8dcf9"/><rect x="351" y="177" width="3" height="4" fill="#f8dcf9"/><rect x="351" y="182" width="3" height="5" fill="#f8dcf9"/><rect x="354" y="177" width="3" height="4" fill="#f8dcf9"/><rect x="354" y="182" width="3" height="5" fill="#f8dcf9"/><rect x="358" y="177" width="3" height="4" fill="#f8dcf9"/><rect x="358" y="182" width="3" height="5" fill="#f8dcf9"/><rect x="361" y="158" width="3" height="23" fill="#bdeeff"/><rect x="361" y="182" width="3" height="24" fill="#bdeeff"/><rect x="364" y="158" width="3" height="23" fill="#bdeeff"/><rect x="364" y="182" width="3" height="24" fill="#bdeeff"/><rect x="367" y="158" width="3" height="23" fill="#bdeeff"/><rect x="367" y="182" width="3" height="24" fill="#bdeeff"/><rect x="370" y="158" width="3" height="23" fill="#bdeeff"/><rect x="370" y="182" width="3" height="24" fill="#bdeeff"/><rect x="374" y="158" width="3" height="23" fill="#bdeeff"/><rect x="374" y="182" width="3" height="24" fill="#bdeeff"/><rect x="377" y="158" width="3" height="23" fill="#bdeeff"/><rect x="377" y="182" width="3" height="24" fill="#bdeeff"/><rect x="383" y="158" width="3" height="23" fill="#bdeeff"/><rect x="383" y="182" width="3" height="24" fill="#bdeeff"/><rect x="386" y="158" width="3" height="23" fill="#bdeeff"/><rect x="386" y="182" width="3" height="24" fill="#bdeeff"/><rect x="390" y="158" width="3" height="23" fill="#bdeeff"/><rect x="390" y="182" width="3" height="24" fill="#bdeeff"/><rect x="393" y="158" width="3" height="23" fill="#bdeeff"/><rect x="393" y="182" width="3" height="24" fill="#bdeeff"/><rect x="395" y="177" width="3" height="4" fill="#f8dcf9"/><rect x="395" y="182" width="3" height="5" fill="#f8dcf9"/><rect x="399" y="177" width="3" height="4" fill="#f8dcf9"/><rect x="399" y="182" width="3" height="5" fill="#f8dcf9"/><rect x="402" y="177" width="3" height="4" fill="#f8dcf9"/><rect x="402" y="182" width="3" height="5" fill="#f8dcf9"/><rect x="406" y="177" width="3" height="4" fill="#f8dcf9"/><rect x="406" y="182" width="3" height="5" fill="#f8dcf9"/><rect x="408" y="177" width="3" height="4" fill="#f8dcf9"/><rect x="408" y="182" width="3" height="5" fill="#f8dcf9"/><rect x="411" y="177" width="3" height="4" fill="#f8dcf9"/><rect x="411" y="182" width="3" height="5" fill="#f8dcf9"/><rect x="415" y="177" width="3" height="4" fill="#f8dcf9"/><rect x="415" y="182" width="3" height="5" fill="#f8dcf9"/><rect x="418" y="177" width="3" height="4" fill="#f8dcf9"/><rect x="418" y="182" width="3" height="5" fill="#f8dcf9"/><rect x="422" y="177" width="3" height="4" fill="#f8dcf9"/><rect x="422" y="182" width="3" height="5" fill="#f8dcf9"/><rect x="424" y="177" width="3" height="4" fill="#f8dcf9"/><rect x="424" y="182" width="3" height="5" fill="#f8dcf9"/><rect x="427" y="158" width="3" height="23" fill="#bdeeff"/><rect x="427" y="182" width="3" height="24" fill="#bdeeff"/><rect x="431" y="158" width="3" height="23" fill="#bdeeff"/><rect x="431" y="182" width="3" height="24" fill="#bdeeff"/><rect x="434" y="158" width="3" height="23" fill="#bdeeff"/><rect x="434" y="182" width="3" height="24" fill="#bdeeff"/><rect x="437" y="158" width="3" height="23" fill="#bdeeff"/><rect x="437" y="182" width="3" height="24" fill="#bdeeff"/><rect x="440" y="158" width="3" height="23" fill="#bdeeff"/><rect x="440" y="182" width="3" height="24" fill="#bdeeff"/><rect x="450" y="177" width="3" height="4" fill="#f8dcf9"/><rect x="450" y="182" width="3" height="5" fill="#f8dcf9"/><rect x="456" y="177" width="3" height="4" fill="#f8dcf9"/><rect x="456" y="182" width="3" height="5" fill="#f8dcf9"/><rect x="460" y="177" width="3" height="4" fill="#f8dcf9"/><rect x="460" y="182" width="3" height="5" fill="#f8dcf9"/><rect x="469" y="158" width="3" height="23" fill="#bdeeff"/><rect x="469" y="182" width="3" height="24" fill="#bdeeff"/><rect x="472" y="158" width="3" height="23" fill="#bdeeff"/><rect x="472" y="182" width="3" height="24" fill="#bdeeff"/><rect x="476" y="158" width="3" height="23" fill="#bdeeff"/><rect x="476" y="182" width="3" height="24" fill="#bdeeff"/><rect x="479" y="158" width="3" height="23" fill="#bdeeff"/><rect x="479" y="182" width="3" height="24" fill="#bdeeff"/><rect x="481" y="158" width="3" height="23" fill="#bdeeff"/><rect x="481" y="182" width="3" height="24" fill="#bdeeff"/><rect x="485" y="158" width="3" height="23" fill="#bdeeff"/><rect x="485" y="182" width="3" height="24" fill="#bdeeff"/><rect x="488" y="158" width="3" height="23" fill="#bdeeff"/><rect x="488" y="182" width="3" height="24" fill="#bdeeff"/><rect x="494" y="177" width="3" height="4" fill="#f8dcf9"/><rect x="494" y="182" width="3" height="5" fill="#f8dcf9"/><rect x="501" y="177" width="3" height="4" fill="#f8dcf9"/><rect x="501" y="182" width="3" height="5" fill="#f8dcf9"/><rect x="504" y="177" width="3" height="4" fill="#f8dcf9"/><rect x="504" y="182" width="3" height="5" fill="#f8dcf9"/><rect x="508" y="177" width="3" height="4" fill="#f8dcf9"/><rect x="508" y="182" width="3" height="5" fill="#f8dcf9"/><rect x="510" y="177" width="3" height="4" fill="#f8dcf9"/><rect x="510" y="182" width="3" height="5" fill="#f8dcf9"/><rect x="513" y="177" width="3" height="4" fill="#f8dcf9"/><rect x="513" y="182" width="3" height="5" fill="#f8dcf9"/><rect x="517" y="177" width="3" height="4" fill="#f8dcf9"/><rect x="517" y="182" width="3" height="5" fill="#f8dcf9"/><rect x="520" y="177" width="3" height="4" fill="#f8dcf9"/><rect x="520" y="182" width="3" height="5" fill="#f8dcf9"/><rect x="523" y="177" width="3" height="4" fill="#f8dcf9"/><rect x="523" y="182" width="3" height="5" fill="#f8dcf9"/><rect x="526" y="177" width="3" height="4" fill="#f8dcf9"/><rect x="526" y="182" width="3" height="5" fill="#f8dcf9"/><rect x="529" y="158" width="3" height="23" fill="#bdeeff"/><rect x="529" y="182" width="3" height="24" fill="#bdeeff"/><rect x="533" y="158" width="3" height="23" fill="#bdeeff"/><rect x="533" y="182" width="3" height="24" fill="#bdeeff"/><rect x="536" y="158" width="3" height="23" fill="#bdeeff"/><rect x="536" y="182" width="3" height="24" fill="#bdeeff"/><rect x="539" y="158" width="3" height="23" fill="#bdeeff"/><rect x="539" y="182" width="3" height="24" fill="#bdeeff"/><rect x="542" y="158" width="3" height="23" fill="#bdeeff"/><rect x="542" y="182" width="3" height="24" fill="#bdeeff"/><rect x="545" y="158" width="3" height="23" fill="#bdeeff"/><rect x="545" y="182" width="3" height="24" fill="#bdeeff"/><rect x="549" y="158" width="3" height="23" fill="#bdeeff"/><rect x="549" y="182" width="3" height="24" fill="#bdeeff"/><rect x="555" y="158" width="3" height="23" fill="#bdeeff"/><rect x="555" y="182" width="3" height="24" fill="#bdeeff"/><rect x="558" y="158" width="3" height="23" fill="#bdeeff"/><rect x="558" y="182" width="3" height="24" fill="#bdeeff"/><rect x="562" y="158" width="3" height="23" fill="#bdeeff"/><rect x="562" y="182" width="3" height="24" fill="#bdeeff"/><rect x="565" y="158" width="3" height="23" fill="#bdeeff"/><rect x="565" y="182" width="3" height="24" fill="#bdeeff"/><rect x="567" y="158" width="3" height="23" fill="#bdeeff"/><rect x="567" y="182" width="3" height="24" fill="#bdeeff"/><rect x="571" y="158" width="3" height="23" fill="#bdeeff"/><rect x="571" y="182" width="3" height="24" fill="#bdeeff"/><rect x="574" y="158" width="3" height="23" fill="#bdeeff"/><rect x="574" y="182" width="3" height="24" fill="#bdeeff"/><rect x="578" y="158" width="3" height="23" fill="#bdeeff"/><rect x="578" y="182" width="3" height="24" fill="#bdeeff"/><rect x="583" y="158" width="3" height="23" fill="#bdeeff"/><rect x="583" y="182" width="3" height="24" fill="#bdeeff"/><rect x="587" y="158" width="3" height="23" fill="#bdeeff"/><rect x="587" y="182" width="3" height="24" fill="#bdeeff"/><rect x="590" y="158" width="3" height="23" fill="#bdeeff"/><rect x="590" y="182" width="3" height="24" fill="#bdeeff"/><rect x="594" y="158" width="3" height="23" fill="#bdeeff"/><rect x="594" y="182" width="3" height="24" fill="#bdeeff"/><rect x="596" y="158" width="3" height="23" fill="#bdeeff"/><rect x="596" y="182" width="3" height="24" fill="#bdeeff"/><rect x="599" y="158" width="3" height="23" fill="#bdeeff"/><rect x="599" y="182" width="3" height="24" fill="#bdeeff"/><rect x="606" y="177" width="3" height="4" fill="#f8dcf9"/><rect x="606" y="182" width="3" height="5" fill="#f8dcf9"/><rect x="609" y="177" width="3" height="4" fill="#f8dcf9"/><rect x="609" y="182" width="3" height="5" fill="#f8dcf9"/><rect x="612" y="177" width="3" height="4" fill="#f8dcf9"/><rect x="612" y="182" width="3" height="5" fill="#f8dcf9"/><rect x="615" y="177" width="3" height="4" fill="#f8dcf9"/><rect x="615" y="182" width="3" height="5" fill="#f8dcf9"/><rect x="619" y="177" width="3" height="4" fill="#f8dcf9"/><rect x="619" y="182" width="3" height="5" fill="#f8dcf9"/><rect x="622" y="177" width="3" height="4" fill="#f8dcf9"/><rect x="622" y="182" width="3" height="5" fill="#f8dcf9"/><rect x="625" y="158" width="3" height="23" fill="#bdeeff"/><rect x="625" y="182" width="3" height="24" fill="#bdeeff"/><rect x="628" y="158" width="3" height="23" fill="#bdeeff"/><rect x="628" y="182" width="3" height="24" fill="#bdeeff"/><rect x="631" y="158" width="3" height="23" fill="#bdeeff"/><rect x="631" y="182" width="3" height="24" fill="#bdeeff"/><rect x="635" y="158" width="3" height="23" fill="#bdeeff"/><rect x="635" y="182" width="3" height="24" fill="#bdeeff"/><rect x="641" y="158" width="3" height="23" fill="#bdeeff"/><rect x="641" y="182" width="3" height="24" fill="#bdeeff"/><rect x="644" y="158" width="3" height="23" fill="#bdeeff"/><rect x="644" y="182" width="3" height="24" fill="#bdeeff"/><rect x="647" y="158" width="3" height="23" fill="#bdeeff"/><rect x="647" y="182" width="3" height="24" fill="#bdeeff"/><rect x="651" y="158" width="3" height="23" fill="#bdeeff"/><rect x="651" y="182" width="3" height="24" fill="#bdeeff"/><rect x="653" y="158" width="3" height="23" fill="#bdeeff"/><rect x="653" y="182" width="3" height="24" fill="#bdeeff"/><rect x="657" y="158" width="3" height="23" fill="#bdeeff"/><rect x="657" y="182" width="3" height="24" fill="#bdeeff"/><rect x="660" y="158" width="3" height="23" fill="#bdeeff"/><rect x="660" y="182" width="3" height="24" fill="#bdeeff"/><rect x="664" y="158" width="3" height="23" fill="#bdeeff"/><rect x="664" y="182" width="3" height="24" fill="#bdeeff"/><rect x="669" y="158" width="3" height="23" fill="#bdeeff"/><rect x="669" y="182" width="3" height="24" fill="#bdeeff"/><rect x="673" y="158" width="3" height="23" fill="#bdeeff"/><rect x="673" y="182" width="3" height="24" fill="#bdeeff"/><rect x="676" y="177" width="3" height="4" fill="#f8dcf9"/><rect x="676" y="182" width="3" height="5" fill="#f8dcf9"/><rect x="680" y="177" width="3" height="4" fill="#f8dcf9"/><rect x="680" y="182" width="3" height="5" fill="#f8dcf9"/><rect x="682" y="177" width="3" height="4" fill="#f8dcf9"/><rect x="682" y="182" width="3" height="5" fill="#f8dcf9"/><rect x="685" y="177" width="3" height="4" fill="#f8dcf9"/><rect x="685" y="182" width="3" height="5" fill="#f8dcf9"/><rect x="689" y="177" width="3" height="4" fill="#f8dcf9"/><rect x="689" y="182" width="3" height="5" fill="#f8dcf9"/><rect x="692" y="177" width="3" height="4" fill="#f8dcf9"/><rect x="692" y="182" width="3" height="5" fill="#f8dcf9"/><rect x="695" y="177" width="3" height="4" fill="#f8dcf9"/><rect x="695" y="182" width="3" height="5" fill="#f8dcf9"/><rect x="21" y="177" width="1" height="10" fill="#8228a8"/><rect x="21" y="181" width="1" height="1" fill="#b880cc"/><rect x="24" y="177" width="1" height="10" fill="#8228a8"/><rect x="24" y="181" width="1" height="1" fill="#b880cc"/><rect x="27" y="177" width="1" height="10" fill="#8228a8"/><rect x="27" y="181" width="1" height="1" fill="#b880cc"/><rect x="31" y="178" width="1" height="6" fill="#8a8a8a"/><rect x="34" y="178" width="1" height="6" fill="#8a8a8a"/><rect x="36" y="178" width="1" height="6" fill="#8a8a8a"/><rect x="40" y="158" width="1" height="48" fill="#2a6cb6"/><rect x="40" y="181" width="1" height="1" fill="#b0d0ea"/><rect x="43" y="158" width="1" height="48" fill="#2a6cb6"/><rect x="43" y="181" width="1" height="1" fill="#b0d0ea"/><rect x="47" y="158" width="1" height="48" fill="#2a6cb6"/><rect x="47" y="181" width="1" height="1" fill="#b0d0ea"/><rect x="52" y="158" width="1" height="48" fill="#2a6cb6"/><rect x="52" y="181" width="1" height="1" fill="#b0d0ea"/><rect x="56" y="167" width="1" height="29" fill="#af2328"/><rect x="56" y="181" width="1" height="1" fill="#dca0a0"/><rect x="59" y="178" width="1" height="6" fill="#8a8a8a"/><rect x="63" y="178" width="1" height="6" fill="#8a8a8a"/><rect x="65" y="178" width="1" height="6" fill="#8a8a8a"/><rect x="69" y="177" width="1" height="10" fill="#8228a8"/><rect x="69" y="181" width="1" height="1" fill="#b880cc"/><rect x="72" y="177" width="1" height="10" fill="#8228a8"/><rect x="72" y="181" width="1" height="1" fill="#b880cc"/><rect x="75" y="177" width="1" height="10" fill="#8228a8"/><rect x="75" y="181" width="1" height="1" fill="#b880cc"/><rect x="81" y="177" width="1" height="10" fill="#8228a8"/><rect x="81" y="181" width="1" height="1" fill="#b880cc"/><rect x="85" y="177" width="1" height="10" fill="#8228a8"/><rect x="85" y="181" width="1" height="1" fill="#b880cc"/><rect x="88" y="177" width="1" height="10" fill="#8228a8"/><rect x="88" y="181" width="1" height="1" fill="#b880cc"/><rect x="91" y="178" width="1" height="6" fill="#8a8a8a"/><rect x="94" y="167" width="1" height="29" fill="#af2328"/><rect x="94" y="181" width="1" height="1" fill="#dca0a0"/><rect x="97" y="167" width="1" height="29" fill="#af2328"/><rect x="97" y="181" width="1" height="1" fill="#dca0a0"/><rect x="101" y="167" width="1" height="29" fill="#af2328"/><rect x="101" y="181" width="1" height="1" fill="#dca0a0"/><rect x="104" y="167" width="1" height="29" fill="#af2328"/><rect x="104" y="181" width="1" height="1" fill="#dca0a0"/><rect x="107" y="167" width="1" height="29" fill="#af2328"/><rect x="107" y="181" width="1" height="1" fill="#dca0a0"/><rect x="110" y="177" width="1" height="10" fill="#8228a8"/><rect x="110" y="181" width="1" height="1" fill="#b880cc"/><rect x="113" y="177" width="1" height="10" fill="#8228a8"/><rect x="113" y="181" width="1" height="1" fill="#b880cc"/><rect x="117" y="177" width="1" height="10" fill="#8228a8"/><rect x="117" y="181" width="1" height="1" fill="#b880cc"/><rect x="120" y="177" width="1" height="10" fill="#8228a8"/><rect x="120" y="181" width="1" height="1" fill="#b880cc"/><rect x="122" y="177" width="1" height="10" fill="#8228a8"/><rect x="122" y="181" width="1" height="1" fill="#b880cc"/><rect x="126" y="177" width="1" height="10" fill="#8228a8"/><rect x="126" y="181" width="1" height="1" fill="#b880cc"/><rect x="129" y="178" width="1" height="6" fill="#8a8a8a"/><rect x="133" y="158" width="1" height="48" fill="#2a6cb6"/><rect x="133" y="181" width="1" height="1" fill="#b0d0ea"/><rect x="138" y="158" width="1" height="48" fill="#2a6cb6"/><rect x="138" y="181" width="1" height="1" fill="#b0d0ea"/><rect x="142" y="158" width="1" height="48" fill="#2a6cb6"/><rect x="142" y="181" width="1" height="1" fill="#b0d0ea"/><rect x="145" y="158" width="1" height="48" fill="#2a6cb6"/><rect x="145" y="181" width="1" height="1" fill="#b0d0ea"/><rect x="149" y="158" width="1" height="48" fill="#2a6cb6"/><rect x="149" y="181" width="1" height="1" fill="#b0d0ea"/><rect x="151" y="158" width="1" height="48" fill="#2a6cb6"/><rect x="151" y="181" width="1" height="1" fill="#b0d0ea"/><rect x="154" y="158" width="1" height="48" fill="#2a6cb6"/><rect x="154" y="181" width="1" height="1" fill="#b0d0ea"/><rect x="158" y="158" width="1" height="48" fill="#2a6cb6"/><rect x="158" y="181" width="1" height="1" fill="#b0d0ea"/><rect x="161" y="158" width="1" height="48" fill="#2a6cb6"/><rect x="161" y="181" width="1" height="1" fill="#b0d0ea"/><rect x="167" y="158" width="1" height="48" fill="#2a6cb6"/><rect x="167" y="181" width="1" height="1" fill="#b0d0ea"/><rect x="171" y="158" width="1" height="48" fill="#2a6cb6"/><rect x="171" y="181" width="1" height="1" fill="#b0d0ea"/><rect x="174" y="158" width="1" height="48" fill="#2a6cb6"/><rect x="174" y="181" width="1" height="1" fill="#b0d0ea"/><rect x="177" y="158" width="1" height="48" fill="#2a6cb6"/><rect x="177" y="181" width="1" height="1" fill="#b0d0ea"/><rect x="180" y="158" width="1" height="48" fill="#2a6cb6"/><rect x="180" y="181" width="1" height="1" fill="#b0d0ea"/><rect x="183" y="158" width="1" height="48" fill="#2a6cb6"/><rect x="183" y="181" width="1" height="1" fill="#b0d0ea"/><rect x="187" y="177" width="1" height="10" fill="#8228a8"/><rect x="187" y="181" width="1" height="1" fill="#b880cc"/><rect x="190" y="177" width="1" height="10" fill="#8228a8"/><rect x="190" y="181" width="1" height="1" fill="#b880cc"/><rect x="193" y="177" width="1" height="10" fill="#8228a8"/><rect x="193" y="181" width="1" height="1" fill="#b880cc"/><rect x="196" y="177" width="1" height="10" fill="#8228a8"/><rect x="196" y="181" width="1" height="1" fill="#b880cc"/><rect x="199" y="177" width="1" height="10" fill="#8228a8"/><rect x="199" y="181" width="1" height="1" fill="#b880cc"/><rect x="203" y="177" width="1" height="10" fill="#8228a8"/><rect x="203" y="181" width="1" height="1" fill="#b880cc"/><rect x="206" y="177" width="1" height="10" fill="#8228a8"/><rect x="206" y="181" width="1" height="1" fill="#b880cc"/><rect x="208" y="177" width="1" height="10" fill="#8228a8"/><rect x="208" y="181" width="1" height="1" fill="#b880cc"/><rect x="212" y="177" width="1" height="10" fill="#8228a8"/><rect x="212" y="181" width="1" height="1" fill="#b880cc"/><rect x="215" y="177" width="1" height="10" fill="#8228a8"/><rect x="215" y="181" width="1" height="1" fill="#b880cc"/><rect x="219" y="177" width="1" height="10" fill="#8228a8"/><rect x="219" y="181" width="1" height="1" fill="#b880cc"/><rect x="222" y="177" width="1" height="10" fill="#8228a8"/><rect x="222" y="181" width="1" height="1" fill="#b880cc"/><rect x="224" y="177" width="1" height="10" fill="#8228a8"/><rect x="224" y="181" width="1" height="1" fill="#b880cc"/><rect x="228" y="177" width="1" height="10" fill="#8228a8"/><rect x="228" y="181" width="1" height="1" fill="#b880cc"/><rect x="231" y="177" width="1" height="10" fill="#8228a8"/><rect x="231" y="181" width="1" height="1" fill="#b880cc"/><rect x="235" y="177" width="1" height="10" fill="#8228a8"/><rect x="235" y="181" width="1" height="1" fill="#b880cc"/><rect x="237" y="177" width="1" height="10" fill="#8228a8"/><rect x="237" y="181" width="1" height="1" fill="#b880cc"/><rect x="240" y="177" width="1" height="10" fill="#8228a8"/><rect x="240" y="181" width="1" height="1" fill="#b880cc"/><rect x="244" y="158" width="1" height="48" fill="#2a6cb6"/><rect x="244" y="181" width="1" height="1" fill="#b0d0ea"/><rect x="247" y="158" width="1" height="48" fill="#2a6cb6"/><rect x="247" y="181" width="1" height="1" fill="#b0d0ea"/><rect x="253" y="158" width="1" height="48" fill="#2a6cb6"/><rect x="253" y="181" width="1" height="1" fill="#b0d0ea"/><rect x="256" y="158" width="1" height="48" fill="#2a6cb6"/><rect x="256" y="181" width="1" height="1" fill="#b0d0ea"/><rect x="260" y="158" width="1" height="48" fill="#2a6cb6"/><rect x="260" y="181" width="1" height="1" fill="#b0d0ea"/><rect x="263" y="177" width="1" height="10" fill="#8228a8"/><rect x="263" y="181" width="1" height="1" fill="#b880cc"/><rect x="266" y="177" width="1" height="10" fill="#8228a8"/><rect x="266" y="181" width="1" height="1" fill="#b880cc"/><rect x="269" y="177" width="1" height="10" fill="#8228a8"/><rect x="269" y="181" width="1" height="1" fill="#b880cc"/><rect x="273" y="177" width="1" height="10" fill="#8228a8"/><rect x="273" y="181" width="1" height="1" fill="#b880cc"/><rect x="276" y="158" width="1" height="48" fill="#2a6cb6"/><rect x="276" y="181" width="1" height="1" fill="#b0d0ea"/><rect x="279" y="158" width="1" height="48" fill="#2a6cb6"/><rect x="279" y="181" width="1" height="1" fill="#b0d0ea"/><rect x="282" y="158" width="1" height="48" fill="#2a6cb6"/><rect x="282" y="181" width="1" height="1" fill="#b0d0ea"/><rect x="285" y="158" width="1" height="48" fill="#2a6cb6"/><rect x="285" y="181" width="1" height="1" fill="#b0d0ea"/><rect x="289" y="158" width="1" height="48" fill="#2a6cb6"/><rect x="289" y="181" width="1" height="1" fill="#b0d0ea"/><rect x="292" y="158" width="1" height="48" fill="#2a6cb6"/><rect x="292" y="181" width="1" height="1" fill="#b0d0ea"/><rect x="294" y="158" width="1" height="48" fill="#2a6cb6"/><rect x="294" y="181" width="1" height="1" fill="#b0d0ea"/><rect x="298" y="158" width="1" height="48" fill="#2a6cb6"/><rect x="298" y="181" width="1" height="1" fill="#b0d0ea"/><rect x="301" y="158" width="1" height="48" fill="#2a6cb6"/><rect x="301" y="181" width="1" height="1" fill="#b0d0ea"/><rect x="305" y="158" width="1" height="48" fill="#2a6cb6"/><rect x="305" y="181" width="1" height="1" fill="#b0d0ea"/><rect x="308" y="158" width="1" height="48" fill="#2a6cb6"/><rect x="308" y="181" width="1" height="1" fill="#b0d0ea"/><rect x="310" y="158" width="1" height="48" fill="#2a6cb6"/><rect x="310" y="181" width="1" height="1" fill="#b0d0ea"/><rect x="314" y="158" width="1" height="48" fill="#2a6cb6"/><rect x="314" y="181" width="1" height="1" fill="#b0d0ea"/><rect x="317" y="158" width="1" height="48" fill="#2a6cb6"/><rect x="317" y="181" width="1" height="1" fill="#b0d0ea"/><rect x="321" y="158" width="1" height="48" fill="#2a6cb6"/><rect x="321" y="181" width="1" height="1" fill="#b0d0ea"/><rect x="323" y="158" width="1" height="48" fill="#2a6cb6"/><rect x="323" y="181" width="1" height="1" fill="#b0d0ea"/><rect x="326" y="158" width="1" height="48" fill="#2a6cb6"/><rect x="326" y="181" width="1" height="1" fill="#b0d0ea"/><rect x="330" y="177" width="1" height="10" fill="#8228a8"/><rect x="330" y="181" width="1" height="1" fill="#b880cc"/><rect x="333" y="177" width="1" height="10" fill="#8228a8"/><rect x="333" y="181" width="1" height="1" fill="#b880cc"/><rect x="339" y="177" width="1" height="10" fill="#8228a8"/><rect x="339" y="181" width="1" height="1" fill="#b880cc"/><rect x="342" y="177" width="1" height="10" fill="#8228a8"/><rect x="342" y="181" width="1" height="1" fill="#b880cc"/><rect x="346" y="177" width="1" height="10" fill="#8228a8"/><rect x="346" y="181" width="1" height="1" fill="#b880cc"/><rect x="349" y="177" width="1" height="10" fill="#8228a8"/><rect x="349" y="181" width="1" height="1" fill="#b880cc"/><rect x="352" y="177" width="1" height="10" fill="#8228a8"/><rect x="352" y="181" width="1" height="1" fill="#b880cc"/><rect x="355" y="177" width="1" height="10" fill="#8228a8"/><rect x="355" y="181" width="1" height="1" fill="#b880cc"/><rect x="359" y="177" width="1" height="10" fill="#8228a8"/><rect x="359" y="181" width="1" height="1" fill="#b880cc"/><rect x="362" y="158" width="1" height="48" fill="#2a6cb6"/><rect x="362" y="181" width="1" height="1" fill="#b0d0ea"/><rect x="365" y="158" width="1" height="48" fill="#2a6cb6"/><rect x="365" y="181" width="1" height="1" fill="#b0d0ea"/><rect x="368" y="158" width="1" height="48" fill="#2a6cb6"/><rect x="368" y="181" width="1" height="1" fill="#b0d0ea"/><rect x="371" y="158" width="1" height="48" fill="#2a6cb6"/><rect x="371" y="181" width="1" height="1" fill="#b0d0ea"/><rect x="375" y="158" width="1" height="48" fill="#2a6cb6"/><rect x="375" y="181" width="1" height="1" fill="#b0d0ea"/><rect x="378" y="158" width="1" height="48" fill="#2a6cb6"/><rect x="378" y="181" width="1" height="1" fill="#b0d0ea"/><rect x="384" y="158" width="1" height="48" fill="#2a6cb6"/><rect x="384" y="181" width="1" height="1" fill="#b0d0ea"/><rect x="387" y="158" width="1" height="48" fill="#2a6cb6"/><rect x="387" y="181" width="1" height="1" fill="#b0d0ea"/><rect x="391" y="158" width="1" height="48" fill="#2a6cb6"/><rect x="391" y="181" width="1" height="1" fill="#b0d0ea"/><rect x="394" y="158" width="1" height="48" fill="#2a6cb6"/><rect x="394" y="181" width="1" height="1" fill="#b0d0ea"/><rect x="396" y="177" width="1" height="10" fill="#8228a8"/><rect x="396" y="181" width="1" height="1" fill="#b880cc"/><rect x="400" y="177" width="1" height="10" fill="#8228a8"/><rect x="400" y="181" width="1" height="1" fill="#b880cc"/><rect x="403" y="177" width="1" height="10" fill="#8228a8"/><rect x="403" y="181" width="1" height="1" fill="#b880cc"/><rect x="407" y="177" width="1" height="10" fill="#8228a8"/><rect x="407" y="181" width="1" height="1" fill="#b880cc"/><rect x="409" y="177" width="1" height="10" fill="#8228a8"/><rect x="409" y="181" width="1" height="1" fill="#b880cc"/><rect x="412" y="177" width="1" height="10" fill="#8228a8"/><rect x="412" y="181" width="1" height="1" fill="#b880cc"/><rect x="416" y="177" width="1" height="10" fill="#8228a8"/><rect x="416" y="181" width="1" height="1" fill="#b880cc"/><rect x="419" y="177" width="1" height="10" fill="#8228a8"/><rect x="419" y="181" width="1" height="1" fill="#b880cc"/><rect x="423" y="177" width="1" height="10" fill="#8228a8"/><rect x="423" y="181" width="1" height="1" fill="#b880cc"/><rect x="425" y="177" width="1" height="10" fill="#8228a8"/><rect x="425" y="181" width="1" height="1" fill="#b880cc"/><rect x="428" y="158" width="1" height="48" fill="#2a6cb6"/><rect x="428" y="181" width="1" height="1" fill="#b0d0ea"/><rect x="432" y="158" width="1" height="48" fill="#2a6cb6"/><rect x="432" y="181" width="1" height="1" fill="#b0d0ea"/><rect x="435" y="158" width="1" height="48" fill="#2a6cb6"/><rect x="435" y="181" width="1" height="1" fill="#b0d0ea"/><rect x="438" y="158" width="1" height="48" fill="#2a6cb6"/><rect x="438" y="181" width="1" height="1" fill="#b0d0ea"/><rect x="441" y="158" width="1" height="48" fill="#2a6cb6"/><rect x="441" y="181" width="1" height="1" fill="#b0d0ea"/><rect x="444" y="178" width="1" height="6" fill="#8a8a8a"/><rect x="448" y="178" width="1" height="6" fill="#8a8a8a"/><rect x="451" y="177" width="1" height="10" fill="#8228a8"/><rect x="451" y="181" width="1" height="1" fill="#b880cc"/><rect x="454" y="178" width="1" height="6" fill="#8a8a8a"/><rect x="457" y="177" width="1" height="10" fill="#8228a8"/><rect x="457" y="181" width="1" height="1" fill="#b880cc"/><rect x="461" y="177" width="1" height="10" fill="#8228a8"/><rect x="461" y="181" width="1" height="1" fill="#b880cc"/><rect x="464" y="178" width="1" height="6" fill="#8a8a8a"/><rect x="470" y="158" width="1" height="48" fill="#2a6cb6"/><rect x="470" y="181" width="1" height="1" fill="#b0d0ea"/><rect x="473" y="158" width="1" height="48" fill="#2a6cb6"/><rect x="473" y="181" width="1" height="1" fill="#b0d0ea"/><rect x="477" y="158" width="1" height="48" fill="#2a6cb6"/><rect x="477" y="181" width="1" height="1" fill="#b0d0ea"/><rect x="480" y="158" width="1" height="48" fill="#2a6cb6"/><rect x="480" y="181" width="1" height="1" fill="#b0d0ea"/><rect x="482" y="158" width="1" height="48" fill="#2a6cb6"/><rect x="482" y="181" width="1" height="1" fill="#b0d0ea"/><rect x="486" y="158" width="1" height="48" fill="#2a6cb6"/><rect x="486" y="181" width="1" height="1" fill="#b0d0ea"/><rect x="489" y="158" width="1" height="48" fill="#2a6cb6"/><rect x="489" y="181" width="1" height="1" fill="#b0d0ea"/><rect x="493" y="178" width="1" height="6" fill="#8a8a8a"/><rect x="495" y="177" width="1" height="10" fill="#8228a8"/><rect x="495" y="181" width="1" height="1" fill="#b880cc"/><rect x="498" y="178" width="1" height="6" fill="#8a8a8a"/><rect x="502" y="177" width="1" height="10" fill="#8228a8"/><rect x="502" y="181" width="1" height="1" fill="#b880cc"/><rect x="505" y="177" width="1" height="10" fill="#8228a8"/><rect x="505" y="181" width="1" height="1" fill="#b880cc"/><rect x="509" y="177" width="1" height="10" fill="#8228a8"/><rect x="509" y="181" width="1" height="1" fill="#b880cc"/><rect x="511" y="177" width="1" height="10" fill="#8228a8"/><rect x="511" y="181" width="1" height="1" fill="#b880cc"/><rect x="514" y="177" width="1" height="10" fill="#8228a8"/><rect x="514" y="181" width="1" height="1" fill="#b880cc"/><rect x="518" y="177" width="1" height="10" fill="#8228a8"/><rect x="518" y="181" width="1" height="1" fill="#b880cc"/><rect x="521" y="177" width="1" height="10" fill="#8228a8"/><rect x="521" y="181" width="1" height="1" fill="#b880cc"/><rect x="524" y="177" width="1" height="10" fill="#8228a8"/><rect x="524" y="181" width="1" height="1" fill="#b880cc"/><rect x="527" y="177" width="1" height="10" fill="#8228a8"/><rect x="527" y="181" width="1" height="1" fill="#b880cc"/><rect x="530" y="158" width="1" height="48" fill="#2a6cb6"/><rect x="530" y="181" width="1" height="1" fill="#b0d0ea"/><rect x="534" y="158" width="1" height="48" fill="#2a6cb6"/><rect x="534" y="181" width="1" height="1" fill="#b0d0ea"/><rect x="537" y="158" width="1" height="48" fill="#2a6cb6"/><rect x="537" y="181" width="1" height="1" fill="#b0d0ea"/><rect x="540" y="158" width="1" height="48" fill="#2a6cb6"/><rect x="540" y="181" width="1" height="1" fill="#b0d0ea"/><rect x="543" y="158" width="1" height="48" fill="#2a6cb6"/><rect x="543" y="181" width="1" height="1" fill="#b0d0ea"/><rect x="546" y="158" width="1" height="48" fill="#2a6cb6"/><rect x="546" y="181" width="1" height="1" fill="#b0d0ea"/><rect x="550" y="158" width="1" height="48" fill="#2a6cb6"/><rect x="550" y="181" width="1" height="1" fill="#b0d0ea"/><rect x="556" y="158" width="1" height="48" fill="#2a6cb6"/><rect x="556" y="181" width="1" height="1" fill="#b0d0ea"/><rect x="559" y="158" width="1" height="48" fill="#2a6cb6"/><rect x="559" y="181" width="1" height="1" fill="#b0d0ea"/><rect x="563" y="158" width="1" height="48" fill="#2a6cb6"/><rect x="563" y="181" width="1" height="1" fill="#b0d0ea"/><rect x="566" y="158" width="1" height="48" fill="#2a6cb6"/><rect x="566" y="181" width="1" height="1" fill="#b0d0ea"/><rect x="568" y="158" width="1" height="48" fill="#2a6cb6"/><rect x="568" y="181" width="1" height="1" fill="#b0d0ea"/><rect x="572" y="158" width="1" height="48" fill="#2a6cb6"/><rect x="572" y="181" width="1" height="1" fill="#b0d0ea"/><rect x="575" y="158" width="1" height="48" fill="#2a6cb6"/><rect x="575" y="181" width="1" height="1" fill="#b0d0ea"/><rect x="579" y="158" width="1" height="48" fill="#2a6cb6"/><rect x="579" y="181" width="1" height="1" fill="#b0d0ea"/><rect x="584" y="158" width="1" height="48" fill="#2a6cb6"/><rect x="584" y="181" width="1" height="1" fill="#b0d0ea"/><rect x="588" y="158" width="1" height="48" fill="#2a6cb6"/><rect x="588" y="181" width="1" height="1" fill="#b0d0ea"/><rect x="591" y="158" width="1" height="48" fill="#2a6cb6"/><rect x="591" y="181" width="1" height="1" fill="#b0d0ea"/><rect x="595" y="158" width="1" height="48" fill="#2a6cb6"/><rect x="595" y="181" width="1" height="1" fill="#b0d0ea"/><rect x="597" y="158" width="1" height="48" fill="#2a6cb6"/><rect x="597" y="181" width="1" height="1" fill="#b0d0ea"/><rect x="600" y="158" width="1" height="48" fill="#2a6cb6"/><rect x="600" y="181" width="1" height="1" fill="#b0d0ea"/><rect x="604" y="178" width="1" height="6" fill="#8a8a8a"/><rect x="607" y="177" width="1" height="10" fill="#8228a8"/><rect x="607" y="181" width="1" height="1" fill="#b880cc"/><rect x="610" y="177" width="1" height="10" fill="#8228a8"/><rect x="610" y="181" width="1" height="1" fill="#b880cc"/><rect x="613" y="177" width="1" height="10" fill="#8228a8"/><rect x="613" y="181" width="1" height="1" fill="#b880cc"/><rect x="616" y="177" width="1" height="10" fill="#8228a8"/><rect x="616" y="181" width="1" height="1" fill="#b880cc"/><rect x="620" y="177" width="1" height="10" fill="#8228a8"/><rect x="620" y="181" width="1" height="1" fill="#b880cc"/><rect x="623" y="177" width="1" height="10" fill="#8228a8"/><rect x="623" y="181" width="1" height="1" fill="#b880cc"/><rect x="626" y="158" width="1" height="48" fill="#2a6cb6"/><rect x="626" y="181" width="1" height="1" fill="#b0d0ea"/><rect x="629" y="158" width="1" height="48" fill="#2a6cb6"/><rect x="629" y="181" width="1" height="1" fill="#b0d0ea"/><rect x="632" y="158" width="1" height="48" fill="#2a6cb6"/><rect x="632" y="181" width="1" height="1" fill="#b0d0ea"/><rect x="636" y="158" width="1" height="48" fill="#2a6cb6"/><rect x="636" y="181" width="1" height="1" fill="#b0d0ea"/><rect x="642" y="158" width="1" height="48" fill="#2a6cb6"/><rect x="642" y="181" width="1" height="1" fill="#b0d0ea"/><rect x="645" y="158" width="1" height="48" fill="#2a6cb6"/><rect x="645" y="181" width="1" height="1" fill="#b0d0ea"/><rect x="648" y="158" width="1" height="48" fill="#2a6cb6"/><rect x="648" y="181" width="1" height="1" fill="#b0d0ea"/><rect x="652" y="158" width="1" height="48" fill="#2a6cb6"/><rect x="652" y="181" width="1" height="1" fill="#b0d0ea"/><rect x="654" y="158" width="1" height="48" fill="#2a6cb6"/><rect x="654" y="181" width="1" height="1" fill="#b0d0ea"/><rect x="658" y="158" width="1" height="48" fill="#2a6cb6"/><rect x="658" y="181" width="1" height="1" fill="#b0d0ea"/><rect x="661" y="158" width="1" height="48" fill="#2a6cb6"/><rect x="661" y="181" width="1" height="1" fill="#b0d0ea"/><rect x="665" y="158" width="1" height="48" fill="#2a6cb6"/><rect x="665" y="181" width="1" height="1" fill="#b0d0ea"/><rect x="670" y="158" width="1" height="48" fill="#2a6cb6"/><rect x="670" y="181" width="1" height="1" fill="#b0d0ea"/><rect x="674" y="158" width="1" height="48" fill="#2a6cb6"/><rect x="674" y="181" width="1" height="1" fill="#b0d0ea"/><rect x="677" y="177" width="1" height="10" fill="#8228a8"/><rect x="677" y="181" width="1" height="1" fill="#b880cc"/><rect x="681" y="177" width="1" height="10" fill="#8228a8"/><rect x="681" y="181" width="1" height="1" fill="#b880cc"/><rect x="683" y="177" width="1" height="10" fill="#8228a8"/><rect x="683" y="181" width="1" height="1" fill="#b880cc"/><rect x="686" y="177" width="1" height="10" fill="#8228a8"/><rect x="686" y="181" width="1" height="1" fill="#b880cc"/><rect x="690" y="177" width="1" height="10" fill="#8228a8"/><rect x="690" y="181" width="1" height="1" fill="#b880cc"/><rect x="693" y="177" width="1" height="10" fill="#8228a8"/><rect x="693" y="181" width="1" height="1" fill="#b880cc"/><rect x="696" y="177" width="1" height="10" fill="#8228a8"/><rect x="696" y="181" width="1" height="1" fill="#b880cc"/><rect x="18" y="153" width="682" height="1" fill="#000"/><rect x="18" y="209" width="682" height="1" fill="#000"/><rect x="18" y="153" width="1" height="57" fill="#000"/><rect x="699" y="153" width="1" height="57" fill="#000"/><rect x="230" y="271" width="1" height="5" fill="#000"/><rect x="230" y="322" width="1" height="4" fill="#000"/><rect x="339" y="271" width="1" height="5" fill="#000"/><rect x="339" y="322" width="1" height="4" fill="#000"/><rect x="449" y="271" width="1" height="5" fill="#000"/><rect x="449" y="322" width="1" height="4" fill="#000"/><rect x="557" y="271" width="1" height="5" fill="#000"/><rect x="557" y="322" width="1" height="4" fill="#000"/><rect x="667" y="271" width="1" height="5" fill="#000"/><rect x="667" y="322" width="1" height="4" fill="#000"/><rect x="22" y="294" width="3" height="4" fill="#f8dcf9"/><rect x="22" y="299" width="3" height="5" fill="#f8dcf9"/><rect x="28" y="275" width="3" height="23" fill="#bdeeff"/><rect x="28" y="299" width="3" height="24" fill="#bdeeff"/><rect x="33" y="275" width="3" height="23" fill="#bdeeff"/><rect x="33" y="299" width="3" height="24" fill="#bdeeff"/><rect x="38" y="275" width="3" height="23" fill="#bdeeff"/><rect x="38" y="299" width="3" height="24" fill="#bdeeff"/><rect x="44" y="275" width="3" height="23" fill="#bdeeff"/><rect x="44" y="299" width="3" height="24" fill="#bdeeff"/><rect x="49" y="275" width="3" height="23" fill="#bdeeff"/><rect x="49" y="299" width="3" height="24" fill="#bdeeff"/><rect x="55" y="275" width="3" height="23" fill="#bdeeff"/><rect x="55" y="299" width="3" height="24" fill="#bdeeff"/><rect x="61" y="275" width="3" height="23" fill="#bdeeff"/><rect x="61" y="299" width="3" height="24" fill="#bdeeff"/><rect x="65" y="275" width="3" height="23" fill="#bdeeff"/><rect x="65" y="299" width="3" height="24" fill="#bdeeff"/><rect x="71" y="275" width="3" height="23" fill="#bdeeff"/><rect x="71" y="299" width="3" height="24" fill="#bdeeff"/><rect x="77" y="275" width="3" height="23" fill="#bdeeff"/><rect x="77" y="299" width="3" height="24" fill="#bdeeff"/><rect x="82" y="275" width="3" height="23" fill="#bdeeff"/><rect x="82" y="299" width="3" height="24" fill="#bdeeff"/><rect x="88" y="275" width="3" height="23" fill="#bdeeff"/><rect x="88" y="299" width="3" height="24" fill="#bdeeff"/><rect x="93" y="275" width="3" height="23" fill="#bdeeff"/><rect x="93" y="299" width="3" height="24" fill="#bdeeff"/><rect x="98" y="275" width="3" height="23" fill="#bdeeff"/><rect x="98" y="299" width="3" height="24" fill="#bdeeff"/><rect x="109" y="294" width="3" height="4" fill="#f8dcf9"/><rect x="109" y="299" width="3" height="5" fill="#f8dcf9"/><rect x="126" y="294" width="3" height="4" fill="#f8dcf9"/><rect x="126" y="299" width="3" height="5" fill="#f8dcf9"/><rect x="131" y="294" width="3" height="4" fill="#f8dcf9"/><rect x="131" y="299" width="3" height="5" fill="#f8dcf9"/><rect x="142" y="275" width="3" height="23" fill="#bdeeff"/><rect x="142" y="299" width="3" height="24" fill="#bdeeff"/><rect x="148" y="275" width="3" height="23" fill="#bdeeff"/><rect x="148" y="299" width="3" height="24" fill="#bdeeff"/><rect x="153" y="275" width="3" height="23" fill="#bdeeff"/><rect x="153" y="299" width="3" height="24" fill="#bdeeff"/><rect x="159" y="275" width="3" height="23" fill="#bdeeff"/><rect x="159" y="299" width="3" height="24" fill="#bdeeff"/><rect x="175" y="294" width="3" height="4" fill="#f8dcf9"/><rect x="175" y="299" width="3" height="5" fill="#f8dcf9"/><rect x="180" y="294" width="3" height="4" fill="#f8dcf9"/><rect x="180" y="299" width="3" height="5" fill="#f8dcf9"/><rect x="186" y="284" width="3" height="14" fill="#ffdadd"/><rect x="186" y="299" width="3" height="14" fill="#ffdadd"/><rect x="192" y="284" width="3" height="14" fill="#ffdadd"/><rect x="192" y="299" width="3" height="14" fill="#ffdadd"/><rect x="196" y="284" width="3" height="14" fill="#ffdadd"/><rect x="196" y="299" width="3" height="14" fill="#ffdadd"/><rect x="202" y="284" width="3" height="14" fill="#ffdadd"/><rect x="202" y="299" width="3" height="14" fill="#ffdadd"/><rect x="207" y="284" width="3" height="14" fill="#ffdadd"/><rect x="207" y="299" width="3" height="14" fill="#ffdadd"/><rect x="213" y="294" width="3" height="4" fill="#f8dcf9"/><rect x="213" y="299" width="3" height="5" fill="#f8dcf9"/><rect x="219" y="294" width="3" height="4" fill="#f8dcf9"/><rect x="219" y="299" width="3" height="5" fill="#f8dcf9"/><rect x="224" y="294" width="3" height="4" fill="#f8dcf9"/><rect x="224" y="299" width="3" height="5" fill="#f8dcf9"/><rect x="229" y="294" width="3" height="4" fill="#f8dcf9"/><rect x="229" y="299" width="3" height="5" fill="#f8dcf9"/><rect x="235" y="294" width="3" height="4" fill="#f8dcf9"/><rect x="235" y="299" width="3" height="5" fill="#f8dcf9"/><rect x="240" y="294" width="3" height="4" fill="#f8dcf9"/><rect x="240" y="299" width="3" height="5" fill="#f8dcf9"/><rect x="246" y="294" width="3" height="4" fill="#f8dcf9"/><rect x="246" y="299" width="3" height="5" fill="#f8dcf9"/><rect x="257" y="284" width="3" height="14" fill="#ffdadd"/><rect x="257" y="299" width="3" height="14" fill="#ffdadd"/><rect x="262" y="284" width="3" height="14" fill="#ffdadd"/><rect x="262" y="299" width="3" height="14" fill="#ffdadd"/><rect x="267" y="294" width="3" height="4" fill="#f8dcf9"/><rect x="267" y="299" width="3" height="5" fill="#f8dcf9"/><rect x="273" y="294" width="3" height="4" fill="#f8dcf9"/><rect x="273" y="299" width="3" height="5" fill="#f8dcf9"/><rect x="284" y="294" width="3" height="4" fill="#f8dcf9"/><rect x="284" y="299" width="3" height="5" fill="#f8dcf9"/><rect x="290" y="294" width="3" height="4" fill="#f8dcf9"/><rect x="290" y="299" width="3" height="5" fill="#f8dcf9"/><rect x="294" y="294" width="3" height="4" fill="#f8dcf9"/><rect x="294" y="299" width="3" height="5" fill="#f8dcf9"/><rect x="306" y="275" width="3" height="23" fill="#bdeeff"/><rect x="306" y="299" width="3" height="24" fill="#bdeeff"/><rect x="311" y="275" width="3" height="23" fill="#bdeeff"/><rect x="311" y="299" width="3" height="24" fill="#bdeeff"/><rect x="317" y="275" width="3" height="23" fill="#bdeeff"/><rect x="317" y="299" width="3" height="24" fill="#bdeeff"/><rect x="322" y="275" width="3" height="23" fill="#bdeeff"/><rect x="322" y="299" width="3" height="24" fill="#bdeeff"/><rect x="327" y="275" width="3" height="23" fill="#bdeeff"/><rect x="327" y="299" width="3" height="24" fill="#bdeeff"/><rect x="333" y="275" width="3" height="23" fill="#bdeeff"/><rect x="333" y="299" width="3" height="24" fill="#bdeeff"/><rect x="338" y="275" width="3" height="23" fill="#bdeeff"/><rect x="338" y="299" width="3" height="24" fill="#bdeeff"/><rect x="344" y="275" width="3" height="23" fill="#bdeeff"/><rect x="344" y="299" width="3" height="24" fill="#bdeeff"/><rect x="350" y="275" width="3" height="23" fill="#bdeeff"/><rect x="350" y="299" width="3" height="24" fill="#bdeeff"/><rect x="355" y="275" width="3" height="23" fill="#bdeeff"/><rect x="355" y="299" width="3" height="24" fill="#bdeeff"/><rect x="360" y="275" width="3" height="23" fill="#bdeeff"/><rect x="360" y="299" width="3" height="24" fill="#bdeeff"/><rect x="365" y="275" width="3" height="23" fill="#bdeeff"/><rect x="365" y="299" width="3" height="24" fill="#bdeeff"/><rect x="371" y="275" width="3" height="23" fill="#bdeeff"/><rect x="371" y="299" width="3" height="24" fill="#bdeeff"/><rect x="377" y="275" width="3" height="23" fill="#bdeeff"/><rect x="377" y="299" width="3" height="24" fill="#bdeeff"/><rect x="382" y="275" width="3" height="23" fill="#bdeeff"/><rect x="382" y="299" width="3" height="24" fill="#bdeeff"/><rect x="388" y="275" width="3" height="23" fill="#bdeeff"/><rect x="388" y="299" width="3" height="24" fill="#bdeeff"/><rect x="393" y="275" width="3" height="23" fill="#bdeeff"/><rect x="393" y="299" width="3" height="24" fill="#bdeeff"/><rect x="398" y="275" width="3" height="23" fill="#bdeeff"/><rect x="398" y="299" width="3" height="24" fill="#bdeeff"/><rect x="404" y="275" width="3" height="23" fill="#bdeeff"/><rect x="404" y="299" width="3" height="24" fill="#bdeeff"/><rect x="409" y="275" width="3" height="23" fill="#bdeeff"/><rect x="409" y="299" width="3" height="24" fill="#bdeeff"/><rect x="415" y="275" width="3" height="23" fill="#bdeeff"/><rect x="415" y="299" width="3" height="24" fill="#bdeeff"/><rect x="421" y="275" width="3" height="23" fill="#bdeeff"/><rect x="421" y="299" width="3" height="24" fill="#bdeeff"/><rect x="425" y="275" width="3" height="23" fill="#bdeeff"/><rect x="425" y="299" width="3" height="24" fill="#bdeeff"/><rect x="431" y="275" width="3" height="23" fill="#bdeeff"/><rect x="431" y="299" width="3" height="24" fill="#bdeeff"/><rect x="442" y="275" width="3" height="23" fill="#bdeeff"/><rect x="442" y="299" width="3" height="24" fill="#bdeeff"/><rect x="448" y="275" width="3" height="23" fill="#bdeeff"/><rect x="448" y="299" width="3" height="24" fill="#bdeeff"/><rect x="453" y="275" width="3" height="23" fill="#bdeeff"/><rect x="453" y="299" width="3" height="24" fill="#bdeeff"/><rect x="458" y="275" width="3" height="23" fill="#bdeeff"/><rect x="458" y="299" width="3" height="24" fill="#bdeeff"/><rect x="464" y="275" width="3" height="23" fill="#bdeeff"/><rect x="464" y="299" width="3" height="24" fill="#bdeeff"/><rect x="469" y="275" width="3" height="23" fill="#bdeeff"/><rect x="469" y="299" width="3" height="24" fill="#bdeeff"/><rect x="491" y="275" width="3" height="23" fill="#bdeeff"/><rect x="491" y="299" width="3" height="24" fill="#bdeeff"/><rect x="496" y="275" width="3" height="23" fill="#bdeeff"/><rect x="496" y="299" width="3" height="24" fill="#bdeeff"/><rect x="502" y="275" width="3" height="23" fill="#bdeeff"/><rect x="502" y="299" width="3" height="24" fill="#bdeeff"/><rect x="508" y="275" width="3" height="23" fill="#bdeeff"/><rect x="508" y="299" width="3" height="24" fill="#bdeeff"/><rect x="513" y="275" width="3" height="23" fill="#bdeeff"/><rect x="513" y="299" width="3" height="24" fill="#bdeeff"/><rect x="519" y="275" width="3" height="23" fill="#bdeeff"/><rect x="519" y="299" width="3" height="24" fill="#bdeeff"/><rect x="523" y="275" width="3" height="23" fill="#bdeeff"/><rect x="523" y="299" width="3" height="24" fill="#bdeeff"/><rect x="529" y="275" width="3" height="23" fill="#bdeeff"/><rect x="529" y="299" width="3" height="24" fill="#bdeeff"/><rect x="535" y="275" width="3" height="23" fill="#bdeeff"/><rect x="535" y="299" width="3" height="24" fill="#bdeeff"/><rect x="540" y="275" width="3" height="23" fill="#bdeeff"/><rect x="540" y="299" width="3" height="24" fill="#bdeeff"/><rect x="546" y="275" width="3" height="23" fill="#bdeeff"/><rect x="546" y="299" width="3" height="24" fill="#bdeeff"/><rect x="556" y="275" width="3" height="23" fill="#bdeeff"/><rect x="556" y="299" width="3" height="24" fill="#bdeeff"/><rect x="562" y="275" width="3" height="23" fill="#bdeeff"/><rect x="562" y="299" width="3" height="24" fill="#bdeeff"/><rect x="584" y="294" width="3" height="4" fill="#f8dcf9"/><rect x="584" y="299" width="3" height="5" fill="#f8dcf9"/><rect x="589" y="294" width="3" height="4" fill="#f8dcf9"/><rect x="589" y="299" width="3" height="5" fill="#f8dcf9"/><rect x="600" y="294" width="3" height="4" fill="#f8dcf9"/><rect x="600" y="299" width="3" height="5" fill="#f8dcf9"/><rect x="606" y="275" width="3" height="23" fill="#bdeeff"/><rect x="606" y="299" width="3" height="24" fill="#bdeeff"/><rect x="611" y="275" width="3" height="23" fill="#bdeeff"/><rect x="611" y="299" width="3" height="24" fill="#bdeeff"/><rect x="617" y="275" width="3" height="23" fill="#bdeeff"/><rect x="617" y="299" width="3" height="24" fill="#bdeeff"/><rect x="622" y="275" width="3" height="23" fill="#bdeeff"/><rect x="622" y="299" width="3" height="24" fill="#bdeeff"/><rect x="627" y="275" width="3" height="23" fill="#bdeeff"/><rect x="627" y="299" width="3" height="24" fill="#bdeeff"/><rect x="633" y="275" width="3" height="23" fill="#bdeeff"/><rect x="633" y="299" width="3" height="24" fill="#bdeeff"/><rect x="638" y="275" width="3" height="23" fill="#bdeeff"/><rect x="638" y="299" width="3" height="24" fill="#bdeeff"/><rect x="644" y="275" width="3" height="23" fill="#bdeeff"/><rect x="644" y="299" width="3" height="24" fill="#bdeeff"/><rect x="650" y="275" width="3" height="23" fill="#bdeeff"/><rect x="650" y="299" width="3" height="24" fill="#bdeeff"/><rect x="654" y="275" width="3" height="23" fill="#bdeeff"/><rect x="654" y="299" width="3" height="24" fill="#bdeeff"/><rect x="671" y="294" width="3" height="4" fill="#f8dcf9"/><rect x="671" y="299" width="3" height="5" fill="#f8dcf9"/><rect x="677" y="294" width="3" height="4" fill="#f8dcf9"/><rect x="677" y="299" width="3" height="5" fill="#f8dcf9"/><rect x="682" y="294" width="3" height="4" fill="#f8dcf9"/><rect x="682" y="299" width="3" height="5" fill="#f8dcf9"/><rect x="687" y="294" width="3" height="4" fill="#f8dcf9"/><rect x="687" y="299" width="3" height="5" fill="#f8dcf9"/><rect x="693" y="294" width="3" height="4" fill="#f8dcf9"/><rect x="693" y="299" width="3" height="5" fill="#f8dcf9"/><rect x="23" y="294" width="1" height="10" fill="#8228a8"/><rect x="23" y="298" width="1" height="1" fill="#b880cc"/><rect x="29" y="275" width="1" height="48" fill="#2a6cb6"/><rect x="29" y="298" width="1" height="1" fill="#b0d0ea"/><rect x="34" y="275" width="1" height="48" fill="#2a6cb6"/><rect x="34" y="298" width="1" height="1" fill="#b0d0ea"/><rect x="39" y="275" width="1" height="48" fill="#2a6cb6"/><rect x="39" y="298" width="1" height="1" fill="#b0d0ea"/><rect x="45" y="275" width="1" height="48" fill="#2a6cb6"/><rect x="45" y="298" width="1" height="1" fill="#b0d0ea"/><rect x="50" y="275" width="1" height="48" fill="#2a6cb6"/><rect x="50" y="298" width="1" height="1" fill="#b0d0ea"/><rect x="56" y="275" width="1" height="48" fill="#2a6cb6"/><rect x="56" y="298" width="1" height="1" fill="#b0d0ea"/><rect x="62" y="275" width="1" height="48" fill="#2a6cb6"/><rect x="62" y="298" width="1" height="1" fill="#b0d0ea"/><rect x="66" y="275" width="1" height="48" fill="#2a6cb6"/><rect x="66" y="298" width="1" height="1" fill="#b0d0ea"/><rect x="72" y="275" width="1" height="48" fill="#2a6cb6"/><rect x="72" y="298" width="1" height="1" fill="#b0d0ea"/><rect x="78" y="275" width="1" height="48" fill="#2a6cb6"/><rect x="78" y="298" width="1" height="1" fill="#b0d0ea"/><rect x="83" y="275" width="1" height="48" fill="#2a6cb6"/><rect x="83" y="298" width="1" height="1" fill="#b0d0ea"/><rect x="89" y="275" width="1" height="48" fill="#2a6cb6"/><rect x="89" y="298" width="1" height="1" fill="#b0d0ea"/><rect x="94" y="275" width="1" height="48" fill="#2a6cb6"/><rect x="94" y="298" width="1" height="1" fill="#b0d0ea"/><rect x="99" y="275" width="1" height="48" fill="#2a6cb6"/><rect x="99" y="298" width="1" height="1" fill="#b0d0ea"/><rect x="105" y="295" width="1" height="6" fill="#8a8a8a"/><rect x="110" y="294" width="1" height="10" fill="#8228a8"/><rect x="110" y="298" width="1" height="1" fill="#b880cc"/><rect x="116" y="295" width="1" height="6" fill="#8a8a8a"/><rect x="127" y="294" width="1" height="10" fill="#8228a8"/><rect x="127" y="298" width="1" height="1" fill="#b880cc"/><rect x="132" y="294" width="1" height="10" fill="#8228a8"/><rect x="132" y="298" width="1" height="1" fill="#b880cc"/><rect x="137" y="295" width="1" height="6" fill="#8a8a8a"/><rect x="143" y="275" width="1" height="48" fill="#2a6cb6"/><rect x="143" y="298" width="1" height="1" fill="#b0d0ea"/><rect x="149" y="275" width="1" height="48" fill="#2a6cb6"/><rect x="149" y="298" width="1" height="1" fill="#b0d0ea"/><rect x="154" y="275" width="1" height="48" fill="#2a6cb6"/><rect x="154" y="298" width="1" height="1" fill="#b0d0ea"/><rect x="160" y="275" width="1" height="48" fill="#2a6cb6"/><rect x="160" y="298" width="1" height="1" fill="#b0d0ea"/><rect x="170" y="295" width="1" height="6" fill="#8a8a8a"/><rect x="176" y="294" width="1" height="10" fill="#8228a8"/><rect x="176" y="298" width="1" height="1" fill="#b880cc"/><rect x="181" y="294" width="1" height="10" fill="#8228a8"/><rect x="181" y="298" width="1" height="1" fill="#b880cc"/><rect x="187" y="284" width="1" height="29" fill="#af2328"/><rect x="187" y="298" width="1" height="1" fill="#dca0a0"/><rect x="193" y="284" width="1" height="29" fill="#af2328"/><rect x="193" y="298" width="1" height="1" fill="#dca0a0"/><rect x="197" y="284" width="1" height="29" fill="#af2328"/><rect x="197" y="298" width="1" height="1" fill="#dca0a0"/><rect x="203" y="284" width="1" height="29" fill="#af2328"/><rect x="203" y="298" width="1" height="1" fill="#dca0a0"/><rect x="208" y="284" width="1" height="29" fill="#af2328"/><rect x="208" y="298" width="1" height="1" fill="#dca0a0"/><rect x="214" y="294" width="1" height="10" fill="#8228a8"/><rect x="214" y="298" width="1" height="1" fill="#b880cc"/><rect x="220" y="294" width="1" height="10" fill="#8228a8"/><rect x="220" y="298" width="1" height="1" fill="#b880cc"/><rect x="225" y="294" width="1" height="10" fill="#8228a8"/><rect x="225" y="298" width="1" height="1" fill="#b880cc"/><rect x="230" y="294" width="1" height="10" fill="#8228a8"/><rect x="230" y="298" width="1" height="1" fill="#b880cc"/><rect x="236" y="294" width="1" height="10" fill="#8228a8"/><rect x="236" y="298" width="1" height="1" fill="#b880cc"/><rect x="241" y="294" width="1" height="10" fill="#8228a8"/><rect x="241" y="298" width="1" height="1" fill="#b880cc"/><rect x="247" y="294" width="1" height="10" fill="#8228a8"/><rect x="247" y="298" width="1" height="1" fill="#b880cc"/><rect x="252" y="295" width="1" height="6" fill="#8a8a8a"/><rect x="258" y="284" width="1" height="29" fill="#af2328"/><rect x="258" y="298" width="1" height="1" fill="#dca0a0"/><rect x="263" y="284" width="1" height="29" fill="#af2328"/><rect x="263" y="298" width="1" height="1" fill="#dca0a0"/><rect x="268" y="294" width="1" height="10" fill="#8228a8"/><rect x="268" y="298" width="1" height="1" fill="#b880cc"/><rect x="274" y="294" width="1" height="10" fill="#8228a8"/><rect x="274" y="298" width="1" height="1" fill="#b880cc"/><rect x="285" y="294" width="1" height="10" fill="#8228a8"/><rect x="285" y="298" width="1" height="1" fill="#b880cc"/><rect x="291" y="294" width="1" height="10" fill="#8228a8"/><rect x="291" y="298" width="1" height="1" fill="#b880cc"/><rect x="295" y="294" width="1" height="10" fill="#8228a8"/><rect x="295" y="298" width="1" height="1" fill="#b880cc"/><rect x="301" y="295" width="1" height="6" fill="#8a8a8a"/><rect x="307" y="275" width="1" height="48" fill="#2a6cb6"/><rect x="307" y="298" width="1" height="1" fill="#b0d0ea"/><rect x="312" y="275" width="1" height="48" fill="#2a6cb6"/><rect x="312" y="298" width="1" height="1" fill="#b0d0ea"/><rect x="318" y="275" width="1" height="48" fill="#2a6cb6"/><rect x="318" y="298" width="1" height="1" fill="#b0d0ea"/><rect x="323" y="275" width="1" height="48" fill="#2a6cb6"/><rect x="323" y="298" width="1" height="1" fill="#b0d0ea"/><rect x="328" y="275" width="1" height="48" fill="#2a6cb6"/><rect x="328" y="298" width="1" height="1" fill="#b0d0ea"/><rect x="334" y="275" width="1" height="48" fill="#2a6cb6"/><rect x="334" y="298" width="1" height="1" fill="#b0d0ea"/><rect x="339" y="275" width="1" height="48" fill="#2a6cb6"/><rect x="339" y="298" width="1" height="1" fill="#b0d0ea"/><rect x="345" y="275" width="1" height="48" fill="#2a6cb6"/><rect x="345" y="298" width="1" height="1" fill="#b0d0ea"/><rect x="351" y="275" width="1" height="48" fill="#2a6cb6"/><rect x="351" y="298" width="1" height="1" fill="#b0d0ea"/><rect x="356" y="275" width="1" height="48" fill="#2a6cb6"/><rect x="356" y="298" width="1" height="1" fill="#b0d0ea"/><rect x="361" y="275" width="1" height="48" fill="#2a6cb6"/><rect x="361" y="298" width="1" height="1" fill="#b0d0ea"/><rect x="366" y="275" width="1" height="48" fill="#2a6cb6"/><rect x="366" y="298" width="1" height="1" fill="#b0d0ea"/><rect x="372" y="275" width="1" height="48" fill="#2a6cb6"/><rect x="372" y="298" width="1" height="1" fill="#b0d0ea"/><rect x="378" y="275" width="1" height="48" fill="#2a6cb6"/><rect x="378" y="298" width="1" height="1" fill="#b0d0ea"/><rect x="383" y="275" width="1" height="48" fill="#2a6cb6"/><rect x="383" y="298" width="1" height="1" fill="#b0d0ea"/><rect x="389" y="275" width="1" height="48" fill="#2a6cb6"/><rect x="389" y="298" width="1" height="1" fill="#b0d0ea"/><rect x="394" y="275" width="1" height="48" fill="#2a6cb6"/><rect x="394" y="298" width="1" height="1" fill="#b0d0ea"/><rect x="399" y="275" width="1" height="48" fill="#2a6cb6"/><rect x="399" y="298" width="1" height="1" fill="#b0d0ea"/><rect x="405" y="275" width="1" height="48" fill="#2a6cb6"/><rect x="405" y="298" width="1" height="1" fill="#b0d0ea"/><rect x="410" y="275" width="1" height="48" fill="#2a6cb6"/><rect x="410" y="298" width="1" height="1" fill="#b0d0ea"/><rect x="416" y="275" width="1" height="48" fill="#2a6cb6"/><rect x="416" y="298" width="1" height="1" fill="#b0d0ea"/><rect x="422" y="275" width="1" height="48" fill="#2a6cb6"/><rect x="422" y="298" width="1" height="1" fill="#b0d0ea"/><rect x="426" y="275" width="1" height="48" fill="#2a6cb6"/><rect x="426" y="298" width="1" height="1" fill="#b0d0ea"/><rect x="432" y="275" width="1" height="48" fill="#2a6cb6"/><rect x="432" y="298" width="1" height="1" fill="#b0d0ea"/><rect x="443" y="275" width="1" height="48" fill="#2a6cb6"/><rect x="443" y="298" width="1" height="1" fill="#b0d0ea"/><rect x="449" y="275" width="1" height="48" fill="#2a6cb6"/><rect x="449" y="298" width="1" height="1" fill="#b0d0ea"/><rect x="454" y="275" width="1" height="48" fill="#2a6cb6"/><rect x="454" y="298" width="1" height="1" fill="#b0d0ea"/><rect x="459" y="275" width="1" height="48" fill="#2a6cb6"/><rect x="459" y="298" width="1" height="1" fill="#b0d0ea"/><rect x="465" y="275" width="1" height="48" fill="#2a6cb6"/><rect x="465" y="298" width="1" height="1" fill="#b0d0ea"/><rect x="470" y="275" width="1" height="48" fill="#2a6cb6"/><rect x="470" y="298" width="1" height="1" fill="#b0d0ea"/><rect x="476" y="295" width="1" height="6" fill="#8a8a8a"/><rect x="481" y="295" width="1" height="6" fill="#8a8a8a"/><rect x="487" y="295" width="1" height="6" fill="#8a8a8a"/><rect x="492" y="275" width="1" height="48" fill="#2a6cb6"/><rect x="492" y="298" width="1" height="1" fill="#b0d0ea"/><rect x="497" y="275" width="1" height="48" fill="#2a6cb6"/><rect x="497" y="298" width="1" height="1" fill="#b0d0ea"/><rect x="503" y="275" width="1" height="48" fill="#2a6cb6"/><rect x="503" y="298" width="1" height="1" fill="#b0d0ea"/><rect x="509" y="275" width="1" height="48" fill="#2a6cb6"/><rect x="509" y="298" width="1" height="1" fill="#b0d0ea"/><rect x="514" y="275" width="1" height="48" fill="#2a6cb6"/><rect x="514" y="298" width="1" height="1" fill="#b0d0ea"/><rect x="520" y="275" width="1" height="48" fill="#2a6cb6"/><rect x="520" y="298" width="1" height="1" fill="#b0d0ea"/><rect x="524" y="275" width="1" height="48" fill="#2a6cb6"/><rect x="524" y="298" width="1" height="1" fill="#b0d0ea"/><rect x="530" y="275" width="1" height="48" fill="#2a6cb6"/><rect x="530" y="298" width="1" height="1" fill="#b0d0ea"/><rect x="536" y="275" width="1" height="48" fill="#2a6cb6"/><rect x="536" y="298" width="1" height="1" fill="#b0d0ea"/><rect x="541" y="275" width="1" height="48" fill="#2a6cb6"/><rect x="541" y="298" width="1" height="1" fill="#b0d0ea"/><rect x="547" y="275" width="1" height="48" fill="#2a6cb6"/><rect x="547" y="298" width="1" height="1" fill="#b0d0ea"/><rect x="557" y="275" width="1" height="48" fill="#2a6cb6"/><rect x="557" y="298" width="1" height="1" fill="#b0d0ea"/><rect x="563" y="275" width="1" height="48" fill="#2a6cb6"/><rect x="563" y="298" width="1" height="1" fill="#b0d0ea"/><rect x="568" y="295" width="1" height="6" fill="#8a8a8a"/><rect x="574" y="295" width="1" height="6" fill="#8a8a8a"/><rect x="580" y="295" width="1" height="6" fill="#8a8a8a"/><rect x="585" y="294" width="1" height="10" fill="#8228a8"/><rect x="585" y="298" width="1" height="1" fill="#b880cc"/><rect x="590" y="294" width="1" height="10" fill="#8228a8"/><rect x="590" y="298" width="1" height="1" fill="#b880cc"/><rect x="601" y="294" width="1" height="10" fill="#8228a8"/><rect x="601" y="298" width="1" height="1" fill="#b880cc"/><rect x="607" y="275" width="1" height="48" fill="#2a6cb6"/><rect x="607" y="298" width="1" height="1" fill="#b0d0ea"/><rect x="612" y="275" width="1" height="48" fill="#2a6cb6"/><rect x="612" y="298" width="1" height="1" fill="#b0d0ea"/><rect x="618" y="275" width="1" height="48" fill="#2a6cb6"/><rect x="618" y="298" width="1" height="1" fill="#b0d0ea"/><rect x="623" y="275" width="1" height="48" fill="#2a6cb6"/><rect x="623" y="298" width="1" height="1" fill="#b0d0ea"/><rect x="628" y="275" width="1" height="48" fill="#2a6cb6"/><rect x="628" y="298" width="1" height="1" fill="#b0d0ea"/><rect x="634" y="275" width="1" height="48" fill="#2a6cb6"/><rect x="634" y="298" width="1" height="1" fill="#b0d0ea"/><rect x="639" y="275" width="1" height="48" fill="#2a6cb6"/><rect x="639" y="298" width="1" height="1" fill="#b0d0ea"/><rect x="645" y="275" width="1" height="48" fill="#2a6cb6"/><rect x="645" y="298" width="1" height="1" fill="#b0d0ea"/><rect x="651" y="275" width="1" height="48" fill="#2a6cb6"/><rect x="651" y="298" width="1" height="1" fill="#b0d0ea"/><rect x="655" y="275" width="1" height="48" fill="#2a6cb6"/><rect x="655" y="298" width="1" height="1" fill="#b0d0ea"/><rect x="661" y="295" width="1" height="6" fill="#8a8a8a"/><rect x="667" y="295" width="1" height="6" fill="#8a8a8a"/><rect x="672" y="294" width="1" height="10" fill="#8228a8"/><rect x="672" y="298" width="1" height="1" fill="#b880cc"/><rect x="678" y="294" width="1" height="10" fill="#8228a8"/><rect x="678" y="298" width="1" height="1" fill="#b880cc"/><rect x="683" y="294" width="1" height="10" fill="#8228a8"/><rect x="683" y="298" width="1" height="1" fill="#b880cc"/><rect x="688" y="294" width="1" height="10" fill="#8228a8"/><rect x="688" y="298" width="1" height="1" fill="#b880cc"/><rect x="694" y="294" width="1" height="10" fill="#8228a8"/><rect x="694" y="298" width="1" height="1" fill="#b880cc"/><rect x="18" y="270" width="682" height="1" fill="#000"/><rect x="18" y="326" width="682" height="1" fill="#000"/><rect x="18" y="270" width="1" height="57" fill="#000"/><rect x="699" y="270" width="1" height="57" fill="#000"/><text x="124.50" y="107" class="tl">50</text><text x="232.70" y="107" class="tl">100</text><text x="341.60" y="107" class="tl">150</text><text x="451.60" y="107" class="tl">200</text><text x="558.20" y="107" class="tl">250</text><text x="666.40" y="107" class="tl">300</text><text x="175.60" y="223.5" class="tl">50</text><text x="334.30" y="223.5" class="tl">100</text><text x="494.80" y="223.5" class="tl">150</text><text x="653.50" y="223.5" class="tl">200</text><text x="125.40" y="341.6" class="tl">20</text><text x="231.70" y="341.6" class="tl">40</text><text x="341.50" y="341.6" class="tl">60</text><text x="450.60" y="341.6" class="tl">80</text><text x="558.50" y="341.6" class="tl">100</text><text x="667.20" y="341.6" class="tl">120</text><text transform="translate(29.0,31) scale(0.9,1)" class="pl">A</text><text transform="translate(28.5,148) scale(1.0,1)" class="pl">B</text><text transform="translate(29.0,265.4) scale(1.03,1)" class="pl">C</text></svg></body></html>
